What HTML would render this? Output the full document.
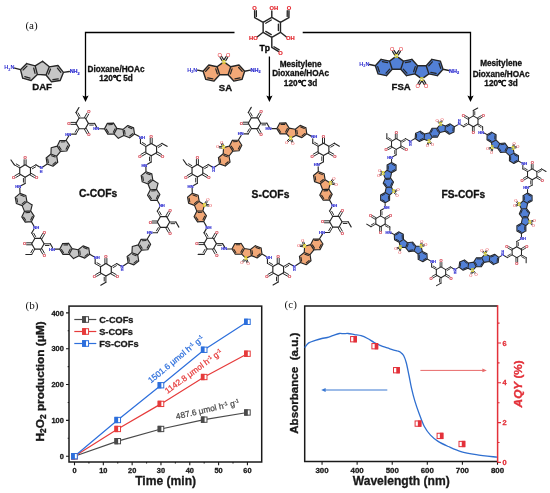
<!DOCTYPE html><html><head><meta charset="utf-8"><style>html,body{margin:0;padding:0;background:#fff;}svg{display:block}</style></head><body><svg width="550" height="493" viewBox="0 0 550 493"><polygon points="118.32,138.3 123.88,135.55 122.99,129.42 116.87,128.37 113.99,133.86" fill="#c6c6c6"/><polygon points="122.99,129.42 123.88,135.55 129.64,137.84 134.51,134 133.61,127.87 127.85,125.57" fill="#c6c6c6"/><polygon points="116.87,128.37 113.99,133.86 107.8,134.11 104.48,128.87 107.37,123.38 113.56,123.13" fill="#c6c6c6"/><polygon points="158.05,183.37 156.49,189.37 150.3,189.74 148.03,183.97 152.82,180.03" fill="#c6c6c6"/><polygon points="150.3,189.74 156.49,189.37 159.9,194.54 157.13,200.09 150.94,200.46 147.52,195.28" fill="#c6c6c6"/><polygon points="148.03,183.97 152.82,180.03 151.81,173.91 146,171.74 141.21,175.67 142.23,181.79" fill="#c6c6c6"/><polygon points="132.28,246.47 131.95,252.67 137.74,254.89 141.64,250.07 138.26,244.87" fill="#c6c6c6"/><polygon points="137.74,254.89 131.95,252.67 127.14,256.57 128.11,262.69 133.9,264.91 138.72,261.01" fill="#c6c6c6"/><polygon points="141.64,250.07 138.26,244.87 141.08,239.34 147.27,239.01 150.65,244.21 147.83,249.74" fill="#c6c6c6"/><polygon points="73.53,258.6 69.2,254.17 72.07,248.67 78.18,249.71 79.09,255.85" fill="#c6c6c6"/><polygon points="72.07,248.67 69.2,254.17 63,254.42 59.68,249.18 62.56,243.69 68.75,243.44" fill="#c6c6c6"/><polygon points="78.18,249.71 79.09,255.85 84.85,258.13 89.71,254.29 88.81,248.15 83.05,245.87" fill="#c6c6c6"/><polygon points="32.17,204.9 26.91,201.62 22.16,205.6 24.49,211.35 30.67,210.92" fill="#c6c6c6"/><polygon points="22.16,205.6 26.91,201.62 25.84,195.51 20.01,193.39 15.26,197.38 16.34,203.48" fill="#c6c6c6"/><polygon points="24.49,211.35 30.67,210.92 34.14,216.06 31.42,221.63 25.24,222.06 21.77,216.92" fill="#c6c6c6"/><polygon points="51.19,147.82 57.16,146.16 60.59,151.33 56.73,156.19 50.92,154.01" fill="#c6c6c6"/><polygon points="60.59,151.33 57.16,146.16 59.93,140.61 66.12,140.24 69.54,145.41 66.77,150.96" fill="#c6c6c6"/><polygon points="56.73,156.19 50.92,154.01 46.13,157.96 47.16,164.07 52.96,166.24 57.75,162.3" fill="#c6c6c6"/><path d="M88.4 123.4L85.3 128.77M85.3 128.77L79.1 128.77M79.1 128.77L76 123.4M76 123.4L79.1 118.03M79.1 118.03L85.3 118.03M85.3 118.03L88.4 123.4M94.6 123.4L96.78 127.17M76 134.14L71.64 134.14M76 112.66L78.94 107.56M156.57 152.7L151.2 155.8M151.2 155.8L145.83 152.7M145.83 152.7L145.83 146.5M145.83 146.5L151.2 143.4M151.2 143.4L156.57 146.5M156.57 146.5L156.57 152.7M151.2 162L147.43 164.18M140.46 143.4L140.46 139.05M161.94 143.4L167.04 146.34M169.7 222L166.6 227.37M166.6 227.37L160.4 227.37M160.4 227.37L157.3 222M157.3 222L160.4 216.63M160.4 216.63L166.6 216.63M166.6 216.63L169.7 222M175.9 222L178.84 227.1M157.3 232.74L152.95 232.74M157.3 211.26L159.48 207.49M111.27 272.9L105.9 276M105.9 276L100.53 272.9M100.53 272.9L100.53 266.7M100.53 266.7L105.9 263.6M105.9 263.6L111.27 266.7M111.27 266.7L111.27 272.9M105.9 282.2L100.8 285.14M95.16 263.6L95.16 259.25M116.64 263.6L120.41 265.78M44.1 243.8L41 249.17M41 249.17L34.8 249.17M34.8 249.17L31.7 243.8M31.7 243.8L34.8 238.43M34.8 238.43L41 238.43M41 238.43L44.1 243.8M50.3 243.8L52.48 247.57M31.7 254.54L25.81 254.54M31.7 233.06L33.88 229.29M30.47 174.1L25.1 177.2M25.1 177.2L19.73 174.1M19.73 174.1L19.73 167.9M19.73 167.9L25.1 164.8M25.1 164.8L30.47 167.9M30.47 167.9L30.47 174.1M25.1 183.4L21.33 185.58M14.36 164.8L10.98 159.98M35.84 164.8L39.61 166.98M118.32 138.3L123.88 135.55M113.99 133.86L118.32 138.3M123.88 135.55L122.99 129.42M122.99 129.42L116.87 128.37M116.87 128.37L113.99 133.86M123.88 135.55L129.64 137.84M129.64 137.84L134.51 134M134.51 134L133.61 127.87M133.61 127.87L127.85 125.57M127.85 125.57L122.99 129.42M113.99 133.86L107.8 134.11M107.8 134.11L104.48 128.87M104.48 128.87L107.37 123.38M107.37 123.38L113.56 123.13M113.56 123.13L116.87 128.37M99.54 128.8L104.48 128.87M138.84 136.33L134.51 134M158.05 183.37L156.49 189.37M152.82 180.03L158.05 183.37M156.49 189.37L150.3 189.74M150.3 189.74L148.03 183.97M148.03 183.97L152.82 180.03M156.49 189.37L159.9 194.54M159.9 194.54L157.13 200.09M157.13 200.09L150.94 200.46M150.94 200.46L147.52 195.28M147.52 195.28L150.3 189.74M152.82 180.03L151.81 173.91M151.81 173.91L146 171.74M146 171.74L141.21 175.67M141.21 175.67L142.23 181.79M142.23 181.79L148.03 183.97M145.88 166.94L146 171.74M159.49 204.28L157.13 200.09M132.28 246.47L131.95 252.67M138.26 244.87L132.28 246.47M131.95 252.67L137.74 254.89M137.74 254.89L141.64 250.07M141.64 250.07L138.26 244.87M131.95 252.67L127.14 256.57M127.14 256.57L128.11 262.69M128.11 262.69L133.9 264.91M133.9 264.91L138.72 261.01M138.72 261.01L137.74 254.89M138.26 244.87L141.08 239.34M141.08 239.34L147.27 239.01M147.27 239.01L150.65 244.21M150.65 244.21L147.83 249.74M147.83 249.74L141.64 250.07M150.14 234.31L147.27 239.01M123.55 265.69L128.11 262.69M73.53 258.6L69.2 254.17M79.09 255.85L73.53 258.6M69.2 254.17L72.07 248.67M72.07 248.67L78.18 249.71M78.18 249.71L79.09 255.85M69.2 254.17L63 254.42M63 254.42L59.68 249.18M59.68 249.18L62.56 243.69M62.56 243.69L68.75 243.44M68.75 243.44L72.07 248.67M79.09 255.85L84.85 258.13M84.85 258.13L89.71 254.29M89.71 254.29L88.81 248.15M88.81 248.15L83.05 245.87M83.05 245.87L78.18 249.71M93.56 256.48L89.71 254.29M55.24 249.17L59.68 249.18M32.17 204.9L26.91 201.62M30.67 210.92L32.17 204.9M26.91 201.62L22.16 205.6M22.16 205.6L24.49 211.35M24.49 211.35L30.67 210.92M26.91 201.62L25.84 195.51M25.84 195.51L20.01 193.39M20.01 193.39L15.26 197.38M15.26 197.38L16.34 203.48M16.34 203.48L22.16 205.6M30.67 210.92L34.14 216.06M34.14 216.06L31.42 221.63M31.42 221.63L25.24 222.06M25.24 222.06L21.77 216.92M21.77 216.92L24.49 211.35M33.9 226.08L31.42 221.63M19.81 188.34L20.01 193.39M51.19 147.82L57.16 146.16M50.92 154.01L51.19 147.82M57.16 146.16L60.59 151.33M60.59 151.33L56.73 156.19M56.73 156.19L50.92 154.01M57.16 146.16L59.93 140.61M59.93 140.61L66.12 140.24M66.12 140.24L69.54 145.41M69.54 145.41L66.77 150.96M66.77 150.96L60.59 151.33M50.92 154.01L46.13 157.96M46.13 157.96L47.16 164.07M47.16 164.07L52.96 166.24M52.96 166.24L57.75 162.3M57.75 162.3L56.73 156.19M42.76 166.9L47.16 164.07M68.85 135.72L66.12 140.24" stroke="#262626" stroke-width="1.15" fill="none" stroke-linecap="round"/><path d="M88.4 123.4L94.6 123.4M89.64 125.07L93.36 125.07M84.44 129.27L87 133.69M86.16 128.27L88.71 132.7M79.1 128.77L76 134.14M77.03 129.01L75.17 132.23M76 122.41L70.89 122.41M76 124.39L70.89 124.39M79.1 118.03L76 112.66M79.93 116.12L78.07 112.9M86.16 118.53L88.71 114.1M84.44 117.53L87 113.11M156.07 153.56L160.5 156.11M157.07 151.84L161.49 154.4M151.2 155.8L151.2 162M149.53 157.04L149.53 160.76M145.33 151.84L140.91 154.4M146.33 153.56L141.9 156.11M145.83 146.5L140.46 143.4M145.59 144.43L142.37 142.57M152.19 143.4L152.19 138.29M150.21 143.4L150.21 138.29M156.57 146.5L161.94 143.4M158.48 147.33L161.7 145.47M169.7 222L175.9 222M170.94 223.67L174.66 223.67M165.74 227.87L168.3 232.29M167.46 226.87L170.01 231.3M160.4 227.37L157.3 232.74M158.33 227.61L156.47 230.83M157.3 221.01L152.19 221.01M157.3 222.99L152.19 222.99M160.4 216.63L157.3 211.26M161.23 214.72L159.37 211.5M167.46 217.13L170.01 212.7M165.74 216.13L168.3 211.71M110.77 273.76L115.2 276.31M111.77 272.04L116.19 274.6M105.9 276L105.9 282.2M104.23 277.24L104.23 280.96M100.03 272.04L95.61 274.6M101.03 273.76L96.6 276.31M100.53 266.7L95.16 263.6M100.29 264.63L97.07 262.77M106.89 263.6L106.89 258.49M104.91 263.6L104.91 258.49M111.27 266.7L116.64 263.6M113.18 267.53L116.4 265.67M44.1 243.8L50.3 243.8M45.34 245.47L49.06 245.47M40.14 249.67L42.7 254.09M41.86 248.67L44.41 253.1M34.8 249.17L31.7 254.54M32.73 249.41L30.87 252.63M31.7 242.81L26.59 242.81M31.7 244.79L26.59 244.79M34.8 238.43L31.7 233.06M35.63 236.52L33.77 233.3M41.86 238.93L44.41 234.5M40.14 237.93L42.7 233.51M29.97 174.96L34.4 177.51M30.97 173.24L35.39 175.8M25.1 177.2L25.1 183.4M23.43 178.44L23.43 182.16M19.23 173.24L14.81 175.8M20.23 174.96L15.8 177.51M19.73 167.9L14.36 164.8M19.49 165.83L16.27 163.97M26.09 164.8L26.09 159.69M24.11 164.8L24.11 159.69M30.47 167.9L35.84 164.8M32.38 168.73L35.6 166.87" stroke="#262626" stroke-width="0.9774999999999999" fill="none" stroke-linecap="round"/><path d="M124.54 130.37L125.09 134.19M129.7 136.02L132.72 133.63M132.01 128.73L128.43 127.3M115.09 128.76L113.3 132.17M108.35 132.37L106.29 129.11M108.59 124.73L112.45 124.57M151.55 191.06L155.4 190.83M158.13 194.97L156.41 198.41M151.46 198.71L149.34 195.49M148.05 182.14L151.03 179.7M150.22 174.81L146.61 173.45M142.78 176.6L143.41 180.4M136.15 255.77L132.55 254.39M128.7 257.51L129.31 261.32M133.93 263.09L136.93 260.66M142.17 248.32L140.07 245.09M142.32 240.67L146.17 240.47M148.87 244.62L147.12 248.06M70.29 249.07L68.5 252.48M63.55 252.68L61.49 249.43M63.79 245.04L67.64 244.88M79.74 250.67L80.3 254.48M84.9 256.31L87.92 253.92M87.2 249.02L83.62 247.6M22.16 203.78L25.12 201.3M24.26 196.42L20.63 195.1M16.84 198.29L17.51 202.08M25.75 212.66L29.6 212.39M32.37 216.5L30.68 219.96M25.74 220.31L23.58 217.12M61.1 149.58L58.98 146.37M61.19 141.94L65.03 141.7M67.77 145.83L66.05 149.28M55.14 157.08L51.53 155.73M47.7 158.88L48.34 162.68M52.98 164.42L55.96 161.97" stroke="#262626" stroke-width="1.035" fill="none" stroke-linecap="round"/><text x="99.18" y="130.25" font-family="Liberation Sans, Arial, sans-serif" font-size="4.1" fill="#2b2bd0" font-weight="bold" text-anchor="end" stroke="#2b2bd0" stroke-width="0.18">HN</text><text x="88.8" y="136.34" font-family="Liberation Sans, Arial, sans-serif" font-size="4.2" fill="#d23444" font-weight="bold" text-anchor="middle" stroke="#d23444" stroke-width="0.12">O</text><text x="71.28" y="135.61" font-family="Liberation Sans, Arial, sans-serif" font-size="4.1" fill="#2b2bd0" font-weight="bold" text-anchor="end" stroke="#2b2bd0" stroke-width="0.18">HN</text><text x="69" y="124.91" font-family="Liberation Sans, Arial, sans-serif" font-size="4.2" fill="#d23444" font-weight="bold" text-anchor="middle" stroke="#d23444" stroke-width="0.12">O</text><text x="88.8" y="113.48" font-family="Liberation Sans, Arial, sans-serif" font-size="4.2" fill="#d23444" font-weight="bold" text-anchor="middle" stroke="#d23444" stroke-width="0.12">O</text><text x="162.63" y="157.71" font-family="Liberation Sans, Arial, sans-serif" font-size="4.2" fill="#d23444" font-weight="bold" text-anchor="middle" stroke="#d23444" stroke-width="0.12">O</text><text x="147.31" y="166.58" font-family="Liberation Sans, Arial, sans-serif" font-size="4.1" fill="#2b2bd0" font-weight="bold" text-anchor="end" stroke="#2b2bd0" stroke-width="0.18">HN</text><text x="139.77" y="157.71" font-family="Liberation Sans, Arial, sans-serif" font-size="4.2" fill="#d23444" font-weight="bold" text-anchor="middle" stroke="#d23444" stroke-width="0.12">O</text><text x="138.98" y="138.68" font-family="Liberation Sans, Arial, sans-serif" font-size="4.1" fill="#2b2bd0" font-weight="bold" text-anchor="start" stroke="#2b2bd0" stroke-width="0.18">NH</text><text x="151.2" y="137.91" font-family="Liberation Sans, Arial, sans-serif" font-size="4.2" fill="#d23444" font-weight="bold" text-anchor="middle" stroke="#d23444" stroke-width="0.12">O</text><text x="170.1" y="234.94" font-family="Liberation Sans, Arial, sans-serif" font-size="4.2" fill="#d23444" font-weight="bold" text-anchor="middle" stroke="#d23444" stroke-width="0.12">O</text><text x="152.58" y="234.21" font-family="Liberation Sans, Arial, sans-serif" font-size="4.1" fill="#2b2bd0" font-weight="bold" text-anchor="end" stroke="#2b2bd0" stroke-width="0.18">HN</text><text x="150.3" y="223.51" font-family="Liberation Sans, Arial, sans-serif" font-size="4.2" fill="#d23444" font-weight="bold" text-anchor="middle" stroke="#d23444" stroke-width="0.12">O</text><text x="158.92" y="207.37" font-family="Liberation Sans, Arial, sans-serif" font-size="4.1" fill="#2b2bd0" font-weight="bold" text-anchor="start" stroke="#2b2bd0" stroke-width="0.18">NH</text><text x="170.1" y="212.08" font-family="Liberation Sans, Arial, sans-serif" font-size="4.2" fill="#d23444" font-weight="bold" text-anchor="middle" stroke="#d23444" stroke-width="0.12">O</text><text x="117.33" y="277.91" font-family="Liberation Sans, Arial, sans-serif" font-size="4.2" fill="#d23444" font-weight="bold" text-anchor="middle" stroke="#d23444" stroke-width="0.12">O</text><text x="94.47" y="277.91" font-family="Liberation Sans, Arial, sans-serif" font-size="4.2" fill="#d23444" font-weight="bold" text-anchor="middle" stroke="#d23444" stroke-width="0.12">O</text><text x="93.68" y="258.88" font-family="Liberation Sans, Arial, sans-serif" font-size="4.1" fill="#2b2bd0" font-weight="bold" text-anchor="start" stroke="#2b2bd0" stroke-width="0.18">NH</text><text x="105.9" y="258.11" font-family="Liberation Sans, Arial, sans-serif" font-size="4.2" fill="#d23444" font-weight="bold" text-anchor="middle" stroke="#d23444" stroke-width="0.12">O</text><text x="122.01" y="268.18" font-family="Liberation Sans, Arial, sans-serif" font-size="4.1" fill="#2b2bd0" font-weight="bold" text-anchor="middle" stroke="#2b2bd0" stroke-width="0.18">N</text><text x="122.01" y="271.46" font-family="Liberation Sans, Arial, sans-serif" font-size="3.69" fill="#2b2bd0" font-weight="bold" text-anchor="middle" stroke="#2b2bd0" stroke-width="0.18">H</text><text x="54.88" y="250.65" font-family="Liberation Sans, Arial, sans-serif" font-size="4.1" fill="#2b2bd0" font-weight="bold" text-anchor="end" stroke="#2b2bd0" stroke-width="0.18">HN</text><text x="44.5" y="256.74" font-family="Liberation Sans, Arial, sans-serif" font-size="4.2" fill="#d23444" font-weight="bold" text-anchor="middle" stroke="#d23444" stroke-width="0.12">O</text><text x="24.7" y="245.31" font-family="Liberation Sans, Arial, sans-serif" font-size="4.2" fill="#d23444" font-weight="bold" text-anchor="middle" stroke="#d23444" stroke-width="0.12">O</text><text x="33.32" y="229.17" font-family="Liberation Sans, Arial, sans-serif" font-size="4.1" fill="#2b2bd0" font-weight="bold" text-anchor="start" stroke="#2b2bd0" stroke-width="0.18">NH</text><text x="44.5" y="233.88" font-family="Liberation Sans, Arial, sans-serif" font-size="4.2" fill="#d23444" font-weight="bold" text-anchor="middle" stroke="#d23444" stroke-width="0.12">O</text><text x="36.53" y="179.11" font-family="Liberation Sans, Arial, sans-serif" font-size="4.2" fill="#d23444" font-weight="bold" text-anchor="middle" stroke="#d23444" stroke-width="0.12">O</text><text x="21.21" y="187.98" font-family="Liberation Sans, Arial, sans-serif" font-size="4.1" fill="#2b2bd0" font-weight="bold" text-anchor="end" stroke="#2b2bd0" stroke-width="0.18">HN</text><text x="13.67" y="179.11" font-family="Liberation Sans, Arial, sans-serif" font-size="4.2" fill="#d23444" font-weight="bold" text-anchor="middle" stroke="#d23444" stroke-width="0.12">O</text><text x="25.1" y="159.31" font-family="Liberation Sans, Arial, sans-serif" font-size="4.2" fill="#d23444" font-weight="bold" text-anchor="middle" stroke="#d23444" stroke-width="0.12">O</text><text x="41.21" y="169.38" font-family="Liberation Sans, Arial, sans-serif" font-size="4.1" fill="#2b2bd0" font-weight="bold" text-anchor="middle" stroke="#2b2bd0" stroke-width="0.18">N</text><text x="41.21" y="172.66" font-family="Liberation Sans, Arial, sans-serif" font-size="3.69" fill="#2b2bd0" font-weight="bold" text-anchor="middle" stroke="#2b2bd0" stroke-width="0.18">H</text><polygon points="290.62,138.1 296.18,135.35 295.29,129.22 289.17,128.17 286.29,133.66" fill="#f2a877"/><polygon points="295.29,129.22 296.18,135.35 301.94,137.64 306.81,133.8 305.91,127.67 300.15,125.37" fill="#f2a877"/><polygon points="289.17,128.17 286.29,133.66 280.1,133.91 276.78,128.67 279.67,123.18 285.86,122.93" fill="#f2a877"/><polygon points="330.35,183.17 328.79,189.17 322.6,189.54 320.33,183.77 325.12,179.83" fill="#f2a877"/><polygon points="322.6,189.54 328.79,189.17 332.2,194.34 329.43,199.89 323.24,200.26 319.82,195.08" fill="#f2a877"/><polygon points="320.33,183.77 325.12,179.83 324.11,173.71 318.3,171.54 313.51,175.47 314.53,181.59" fill="#f2a877"/><polygon points="304.58,246.27 304.25,252.47 310.04,254.69 313.94,249.87 310.56,244.67" fill="#f2a877"/><polygon points="310.04,254.69 304.25,252.47 299.44,256.37 300.41,262.49 306.2,264.71 311.02,260.81" fill="#f2a877"/><polygon points="313.94,249.87 310.56,244.67 313.38,239.14 319.57,238.81 322.95,244.01 320.13,249.54" fill="#f2a877"/><polygon points="245.83,258.4 241.5,253.97 244.37,248.47 250.48,249.51 251.39,255.65" fill="#f2a877"/><polygon points="244.37,248.47 241.5,253.97 235.3,254.22 231.98,248.98 234.86,243.49 241.05,243.24" fill="#f2a877"/><polygon points="250.48,249.51 251.39,255.65 257.15,257.93 262.01,254.09 261.11,247.95 255.35,245.67" fill="#f2a877"/><polygon points="204.47,204.7 199.21,201.42 194.46,205.4 196.79,211.15 202.97,210.72" fill="#f2a877"/><polygon points="194.46,205.4 199.21,201.42 198.14,195.31 192.31,193.19 187.56,197.18 188.64,203.28" fill="#f2a877"/><polygon points="196.79,211.15 202.97,210.72 206.44,215.86 203.72,221.43 197.54,221.86 194.07,216.72" fill="#f2a877"/><polygon points="223.49,147.62 229.46,145.96 232.89,151.13 229.03,155.99 223.22,153.81" fill="#f2a877"/><polygon points="232.89,151.13 229.46,145.96 232.23,140.41 238.42,140.04 241.84,145.21 239.07,150.76" fill="#f2a877"/><polygon points="229.03,155.99 223.22,153.81 218.43,157.76 219.46,163.87 225.26,166.04 230.05,162.1" fill="#f2a877"/><path d="M260.7 123.2L257.6 128.57M257.6 128.57L251.4 128.57M251.4 128.57L248.3 123.2M248.3 123.2L251.4 117.83M251.4 117.83L257.6 117.83M257.6 117.83L260.7 123.2M266.9 123.2L269.08 126.97M248.3 133.94L243.95 133.94M248.3 112.46L251.24 107.36M328.87 152.5L323.5 155.6M323.5 155.6L318.13 152.5M318.13 152.5L318.13 146.3M318.13 146.3L323.5 143.2M323.5 143.2L328.87 146.3M328.87 146.3L328.87 152.5M323.5 161.8L319.73 163.98M312.76 143.2L312.76 138.85M334.24 143.2L339.34 146.14M342 221.8L338.9 227.17M338.9 227.17L332.7 227.17M332.7 227.17L329.6 221.8M329.6 221.8L332.7 216.43M332.7 216.43L338.9 216.43M338.9 216.43L342 221.8M348.2 221.8L351.14 226.9M329.6 232.54L325.25 232.54M329.6 211.06L331.78 207.29M283.57 272.7L278.2 275.8M278.2 275.8L272.83 272.7M272.83 272.7L272.83 266.5M272.83 266.5L278.2 263.4M278.2 263.4L283.57 266.5M283.57 266.5L283.57 272.7M278.2 282L273.1 284.94M267.46 263.4L267.46 259.05M288.94 263.4L292.71 265.58M216.4 243.6L213.3 248.97M213.3 248.97L207.1 248.97M207.1 248.97L204 243.6M204 243.6L207.1 238.23M207.1 238.23L213.3 238.23M213.3 238.23L216.4 243.6M222.6 243.6L224.78 247.37M204 254.34L198.11 254.34M204 232.86L206.18 229.09M202.77 173.9L197.4 177M197.4 177L192.03 173.9M192.03 173.9L192.03 167.7M192.03 167.7L197.4 164.6M197.4 164.6L202.77 167.7M202.77 167.7L202.77 173.9M197.4 183.2L193.63 185.38M186.66 164.6L183.28 159.78M208.14 164.6L211.91 166.78M292.42 137.21L296.18 135.35M286.29 133.66L289.23 136.67M296.18 135.35L295.29 129.22M295.29 129.22L289.17 128.17M289.17 128.17L286.29 133.66M296.18 135.35L301.94 137.64M301.94 137.64L306.81 133.8M306.81 133.8L305.91 127.67M305.91 127.67L300.15 125.37M300.15 125.37L295.29 129.22M286.29 133.66L280.1 133.91M280.1 133.91L276.78 128.67M276.78 128.67L279.67 123.18M279.67 123.18L285.86 122.93M285.86 122.93L289.17 128.17M271.84 128.6L276.78 128.67M311.14 136.13L306.81 133.8M329.84 185.1L328.79 189.17M325.12 179.83L328.66 182.09M328.79 189.17L322.6 189.54M322.6 189.54L320.33 183.77M320.33 183.77L325.12 179.83M328.79 189.17L332.2 194.34M332.2 194.34L329.43 199.89M329.43 199.89L323.24 200.26M323.24 200.26L319.82 195.08M319.82 195.08L322.6 189.54M325.12 179.83L324.11 173.71M324.11 173.71L318.3 171.54M318.3 171.54L313.51 175.47M313.51 175.47L314.53 181.59M314.53 181.59L320.33 183.77M318.18 166.74L318.3 171.54M331.79 204.08L329.43 199.89M304.47 248.27L304.25 252.47M310.56 244.67L306.51 245.76M304.25 252.47L310.04 254.69M310.04 254.69L313.94 249.87M313.94 249.87L310.56 244.67M304.25 252.47L299.44 256.37M299.44 256.37L300.41 262.49M300.41 262.49L306.2 264.71M306.2 264.71L311.02 260.81M311.02 260.81L310.04 254.69M310.56 244.67L313.38 239.14M313.38 239.14L319.57 238.81M319.57 238.81L322.95 244.01M322.95 244.01L320.13 249.54M320.13 249.54L313.94 249.87M322.44 234.11L319.57 238.81M295.85 265.49L300.41 262.49M244.43 256.97L241.5 253.97M251.39 255.65L247.62 257.51M241.5 253.97L244.37 248.47M244.37 248.47L250.48 249.51M250.48 249.51L251.39 255.65M241.5 253.97L235.3 254.22M235.3 254.22L231.98 248.98M231.98 248.98L234.86 243.49M234.86 243.49L241.05 243.24M241.05 243.24L244.37 248.47M251.39 255.65L257.15 257.93M257.15 257.93L262.01 254.09M262.01 254.09L261.11 247.95M261.11 247.95L255.35 245.67M255.35 245.67L250.48 249.51M265.86 256.28L262.01 254.09M227.54 248.97L231.98 248.98M202.77 203.64L199.21 201.42M202.97 210.72L203.99 206.64M199.21 201.42L194.46 205.4M194.46 205.4L196.79 211.15M196.79 211.15L202.97 210.72M199.21 201.42L198.14 195.31M198.14 195.31L192.31 193.19M192.31 193.19L187.56 197.18M187.56 197.18L188.64 203.28M188.64 203.28L194.46 205.4M202.97 210.72L206.44 215.86M206.44 215.86L203.72 221.43M203.72 221.43L197.54 221.86M197.54 221.86L194.07 216.72M194.07 216.72L196.79 211.15M206.2 225.88L203.72 221.43M192.11 188.14L192.31 193.19M225.42 147.08L229.46 145.96M223.22 153.81L223.4 149.62M229.46 145.96L232.89 151.13M232.89 151.13L229.03 155.99M229.03 155.99L223.22 153.81M229.46 145.96L232.23 140.41M232.23 140.41L238.42 140.04M238.42 140.04L241.84 145.21M241.84 145.21L239.07 150.76M239.07 150.76L232.89 151.13M223.22 153.81L218.43 157.76M218.43 157.76L219.46 163.87M219.46 163.87L225.26 166.04M225.26 166.04L230.05 162.1M230.05 162.1L229.03 155.99M215.06 166.7L219.46 163.87M241.15 135.52L238.42 140.04" stroke="#262626" stroke-width="1.15" fill="none" stroke-linecap="round"/><path d="M260.7 123.2L266.9 123.2M261.94 124.87L265.66 124.87M256.74 129.07L259.3 133.49M258.46 128.07L261.01 132.5M251.4 128.57L248.3 133.94M249.33 128.81L247.47 132.03M248.3 122.21L243.19 122.21M248.3 124.19L243.19 124.19M251.4 117.83L248.3 112.46M252.23 115.92L250.37 112.7M258.46 118.33L261.01 113.9M256.74 117.33L259.3 112.91M328.37 153.36L332.8 155.91M329.37 151.64L333.79 154.2M323.5 155.6L323.5 161.8M321.83 156.84L321.83 160.56M317.63 151.64L313.21 154.2M318.63 153.36L314.2 155.91M318.13 146.3L312.76 143.2M317.89 144.23L314.67 142.37M324.49 143.2L324.49 138.09M322.51 143.2L322.51 138.09M328.87 146.3L334.24 143.2M330.78 147.13L334 145.27M342 221.8L348.2 221.8M343.24 223.47L346.96 223.47M338.04 227.67L340.6 232.09M339.76 226.67L342.31 231.1M332.7 227.17L329.6 232.54M330.63 227.41L328.77 230.63M329.6 220.81L324.49 220.81M329.6 222.79L324.49 222.79M332.7 216.43L329.6 211.06M333.53 214.52L331.67 211.3M339.76 216.93L342.31 212.5M338.04 215.93L340.6 211.51M283.07 273.56L287.5 276.11M284.07 271.84L288.49 274.4M278.2 275.8L278.2 282M276.53 277.04L276.53 280.76M272.33 271.84L267.91 274.4M273.33 273.56L268.9 276.11M272.83 266.5L267.46 263.4M272.59 264.43L269.37 262.57M279.19 263.4L279.19 258.29M277.21 263.4L277.21 258.29M283.57 266.5L288.94 263.4M285.48 267.33L288.7 265.47M216.4 243.6L222.6 243.6M217.64 245.27L221.36 245.27M212.44 249.47L215 253.89M214.16 248.47L216.71 252.9M207.1 248.97L204 254.34M205.03 249.21L203.17 252.43M204 242.61L198.89 242.61M204 244.59L198.89 244.59M207.1 238.23L204 232.86M207.93 236.32L206.07 233.1M214.16 238.73L216.71 234.3M212.44 237.73L215 233.31M202.27 174.76L206.7 177.31M203.27 173.04L207.69 175.6M197.4 177L197.4 183.2M195.73 178.24L195.73 181.96M191.53 173.04L187.11 175.6M192.53 174.76L188.1 177.31M192.03 167.7L186.66 164.6M191.79 165.63L188.57 163.77M198.39 164.6L198.39 159.49M196.41 164.6L196.41 159.49M202.77 167.7L208.14 164.6M204.68 168.53L207.9 166.67M290.66 139.98L291.56 142.17M291.92 139.46L292.82 141.66M288.95 138.95L287.37 140.72M289.97 139.86L288.39 141.63M331.94 182.17L333.35 180.26M330.84 181.36L332.26 179.45M331.94 184.16L334.28 184.59M332.19 182.82L334.53 183.25M302.92 245.39L300.56 245.1M302.76 246.74L300.4 246.45M304.65 244.4L303.88 242.15M303.36 244.84L302.59 242.6M245.86 260.28L246.77 262.47M247.13 259.76L248.03 261.96M244.16 259.25L242.58 261.03M245.18 260.16L243.6 261.94M206.05 203.69L207.45 201.77M204.95 202.89L206.34 200.96M206.08 205.68L208.42 206.09M206.31 204.33L208.65 204.75M221.83 146.74L219.47 146.47M221.67 148.1L219.31 147.83M223.55 145.74L222.76 143.5M222.26 146.2L221.47 143.96" stroke="#262626" stroke-width="0.9774999999999999" fill="none" stroke-linecap="round"/><path d="M296.84 130.17L297.39 133.99M302 135.82L305.02 133.43M304.31 128.53L300.73 127.1M287.39 128.56L285.6 131.97M280.65 132.17L278.59 128.91M280.89 124.53L284.75 124.37M323.85 190.86L327.7 190.63M330.43 194.77L328.71 198.21M323.76 198.51L321.64 195.29M320.35 181.94L323.33 179.5M322.52 174.61L318.91 173.25M315.08 176.4L315.71 180.2M308.45 255.57L304.85 254.19M301 257.31L301.61 261.12M306.23 262.89L309.23 260.46M314.47 248.12L312.37 244.89M314.62 240.47L318.47 240.27M321.17 244.42L319.42 247.86M242.59 248.87L240.8 252.28M235.85 252.48L233.79 249.23M236.09 244.84L239.94 244.68M252.04 250.47L252.6 254.28M257.2 256.11L260.22 253.72M259.5 248.82L255.92 247.4M194.46 203.58L197.42 201.1M196.56 196.22L192.93 194.9M189.14 198.09L189.81 201.88M198.05 212.46L201.9 212.19M204.67 216.3L202.98 219.76M198.04 220.11L195.88 216.92M233.4 149.38L231.28 146.17M233.49 141.74L237.33 141.5M240.07 145.63L238.35 149.08M227.44 156.88L223.83 155.53M220 158.68L220.64 162.48M225.28 164.22L228.26 161.77" stroke="#262626" stroke-width="1.035" fill="none" stroke-linecap="round"/><text x="271.48" y="130.05" font-family="Liberation Sans, Arial, sans-serif" font-size="4.1" fill="#2b2bd0" font-weight="bold" text-anchor="end" stroke="#2b2bd0" stroke-width="0.18">HN</text><text x="261.1" y="136.14" font-family="Liberation Sans, Arial, sans-serif" font-size="4.2" fill="#d23444" font-weight="bold" text-anchor="middle" stroke="#d23444" stroke-width="0.12">O</text><text x="243.58" y="135.41" font-family="Liberation Sans, Arial, sans-serif" font-size="4.1" fill="#2b2bd0" font-weight="bold" text-anchor="end" stroke="#2b2bd0" stroke-width="0.18">HN</text><text x="241.3" y="124.71" font-family="Liberation Sans, Arial, sans-serif" font-size="4.2" fill="#d23444" font-weight="bold" text-anchor="middle" stroke="#d23444" stroke-width="0.12">O</text><text x="261.1" y="113.28" font-family="Liberation Sans, Arial, sans-serif" font-size="4.2" fill="#d23444" font-weight="bold" text-anchor="middle" stroke="#d23444" stroke-width="0.12">O</text><text x="334.93" y="157.51" font-family="Liberation Sans, Arial, sans-serif" font-size="4.2" fill="#d23444" font-weight="bold" text-anchor="middle" stroke="#d23444" stroke-width="0.12">O</text><text x="319.61" y="166.38" font-family="Liberation Sans, Arial, sans-serif" font-size="4.1" fill="#2b2bd0" font-weight="bold" text-anchor="end" stroke="#2b2bd0" stroke-width="0.18">HN</text><text x="312.07" y="157.51" font-family="Liberation Sans, Arial, sans-serif" font-size="4.2" fill="#d23444" font-weight="bold" text-anchor="middle" stroke="#d23444" stroke-width="0.12">O</text><text x="311.28" y="138.48" font-family="Liberation Sans, Arial, sans-serif" font-size="4.1" fill="#2b2bd0" font-weight="bold" text-anchor="start" stroke="#2b2bd0" stroke-width="0.18">NH</text><text x="323.5" y="137.71" font-family="Liberation Sans, Arial, sans-serif" font-size="4.2" fill="#d23444" font-weight="bold" text-anchor="middle" stroke="#d23444" stroke-width="0.12">O</text><text x="342.4" y="234.74" font-family="Liberation Sans, Arial, sans-serif" font-size="4.2" fill="#d23444" font-weight="bold" text-anchor="middle" stroke="#d23444" stroke-width="0.12">O</text><text x="324.88" y="234.01" font-family="Liberation Sans, Arial, sans-serif" font-size="4.1" fill="#2b2bd0" font-weight="bold" text-anchor="end" stroke="#2b2bd0" stroke-width="0.18">HN</text><text x="322.6" y="223.31" font-family="Liberation Sans, Arial, sans-serif" font-size="4.2" fill="#d23444" font-weight="bold" text-anchor="middle" stroke="#d23444" stroke-width="0.12">O</text><text x="331.22" y="207.17" font-family="Liberation Sans, Arial, sans-serif" font-size="4.1" fill="#2b2bd0" font-weight="bold" text-anchor="start" stroke="#2b2bd0" stroke-width="0.18">NH</text><text x="342.4" y="211.88" font-family="Liberation Sans, Arial, sans-serif" font-size="4.2" fill="#d23444" font-weight="bold" text-anchor="middle" stroke="#d23444" stroke-width="0.12">O</text><text x="289.63" y="277.71" font-family="Liberation Sans, Arial, sans-serif" font-size="4.2" fill="#d23444" font-weight="bold" text-anchor="middle" stroke="#d23444" stroke-width="0.12">O</text><text x="266.77" y="277.71" font-family="Liberation Sans, Arial, sans-serif" font-size="4.2" fill="#d23444" font-weight="bold" text-anchor="middle" stroke="#d23444" stroke-width="0.12">O</text><text x="265.98" y="258.68" font-family="Liberation Sans, Arial, sans-serif" font-size="4.1" fill="#2b2bd0" font-weight="bold" text-anchor="start" stroke="#2b2bd0" stroke-width="0.18">NH</text><text x="278.2" y="257.91" font-family="Liberation Sans, Arial, sans-serif" font-size="4.2" fill="#d23444" font-weight="bold" text-anchor="middle" stroke="#d23444" stroke-width="0.12">O</text><text x="294.31" y="267.98" font-family="Liberation Sans, Arial, sans-serif" font-size="4.1" fill="#2b2bd0" font-weight="bold" text-anchor="middle" stroke="#2b2bd0" stroke-width="0.18">N</text><text x="294.31" y="271.26" font-family="Liberation Sans, Arial, sans-serif" font-size="3.69" fill="#2b2bd0" font-weight="bold" text-anchor="middle" stroke="#2b2bd0" stroke-width="0.18">H</text><text x="227.18" y="250.45" font-family="Liberation Sans, Arial, sans-serif" font-size="4.1" fill="#2b2bd0" font-weight="bold" text-anchor="end" stroke="#2b2bd0" stroke-width="0.18">HN</text><text x="216.8" y="256.54" font-family="Liberation Sans, Arial, sans-serif" font-size="4.2" fill="#d23444" font-weight="bold" text-anchor="middle" stroke="#d23444" stroke-width="0.12">O</text><text x="197" y="245.11" font-family="Liberation Sans, Arial, sans-serif" font-size="4.2" fill="#d23444" font-weight="bold" text-anchor="middle" stroke="#d23444" stroke-width="0.12">O</text><text x="205.62" y="228.97" font-family="Liberation Sans, Arial, sans-serif" font-size="4.1" fill="#2b2bd0" font-weight="bold" text-anchor="start" stroke="#2b2bd0" stroke-width="0.18">NH</text><text x="216.8" y="233.68" font-family="Liberation Sans, Arial, sans-serif" font-size="4.2" fill="#d23444" font-weight="bold" text-anchor="middle" stroke="#d23444" stroke-width="0.12">O</text><text x="208.83" y="178.91" font-family="Liberation Sans, Arial, sans-serif" font-size="4.2" fill="#d23444" font-weight="bold" text-anchor="middle" stroke="#d23444" stroke-width="0.12">O</text><text x="193.51" y="187.78" font-family="Liberation Sans, Arial, sans-serif" font-size="4.1" fill="#2b2bd0" font-weight="bold" text-anchor="end" stroke="#2b2bd0" stroke-width="0.18">HN</text><text x="185.97" y="178.91" font-family="Liberation Sans, Arial, sans-serif" font-size="4.2" fill="#d23444" font-weight="bold" text-anchor="middle" stroke="#d23444" stroke-width="0.12">O</text><text x="197.4" y="159.11" font-family="Liberation Sans, Arial, sans-serif" font-size="4.2" fill="#d23444" font-weight="bold" text-anchor="middle" stroke="#d23444" stroke-width="0.12">O</text><text x="213.51" y="169.18" font-family="Liberation Sans, Arial, sans-serif" font-size="4.1" fill="#2b2bd0" font-weight="bold" text-anchor="middle" stroke="#2b2bd0" stroke-width="0.18">N</text><text x="213.51" y="172.46" font-family="Liberation Sans, Arial, sans-serif" font-size="3.69" fill="#2b2bd0" font-weight="bold" text-anchor="middle" stroke="#2b2bd0" stroke-width="0.18">H</text><text x="290.62" y="139.9" font-family="Liberation Sans, Arial, sans-serif" font-size="5" fill="#d9cc1e" font-weight="bold" text-anchor="middle" stroke="#d9cc1e" stroke-width="0.18">S</text><text x="292.86" y="145.06" font-family="Liberation Sans, Arial, sans-serif" font-size="4.2" fill="#e3262d" font-weight="normal" text-anchor="middle">O</text><text x="286.7" y="144.01" font-family="Liberation Sans, Arial, sans-serif" font-size="4.2" fill="#e3262d" font-weight="normal" text-anchor="middle">O</text><text x="330.35" y="184.97" font-family="Liberation Sans, Arial, sans-serif" font-size="5" fill="#d9cc1e" font-weight="bold" text-anchor="middle" stroke="#d9cc1e" stroke-width="0.18">S</text><text x="333.86" y="179.95" font-family="Liberation Sans, Arial, sans-serif" font-size="4.2" fill="#e3262d" font-weight="normal" text-anchor="middle">O</text><text x="336.14" y="185.76" font-family="Liberation Sans, Arial, sans-serif" font-size="4.2" fill="#e3262d" font-weight="normal" text-anchor="middle">O</text><text x="304.58" y="248.07" font-family="Liberation Sans, Arial, sans-serif" font-size="5" fill="#d9cc1e" font-weight="bold" text-anchor="middle" stroke="#d9cc1e" stroke-width="0.18">S</text><text x="298.73" y="247.07" font-family="Liberation Sans, Arial, sans-serif" font-size="4.2" fill="#e3262d" font-weight="normal" text-anchor="middle">O</text><text x="302.66" y="242.22" font-family="Liberation Sans, Arial, sans-serif" font-size="4.2" fill="#e3262d" font-weight="normal" text-anchor="middle">O</text><text x="245.83" y="260.2" font-family="Liberation Sans, Arial, sans-serif" font-size="5" fill="#d9cc1e" font-weight="bold" text-anchor="middle" stroke="#d9cc1e" stroke-width="0.18">S</text><text x="248.07" y="265.36" font-family="Liberation Sans, Arial, sans-serif" font-size="4.2" fill="#e3262d" font-weight="normal" text-anchor="middle">O</text><text x="241.92" y="264.31" font-family="Liberation Sans, Arial, sans-serif" font-size="4.2" fill="#e3262d" font-weight="normal" text-anchor="middle">O</text><text x="204.47" y="206.5" font-family="Liberation Sans, Arial, sans-serif" font-size="5" fill="#d9cc1e" font-weight="bold" text-anchor="middle" stroke="#d9cc1e" stroke-width="0.18">S</text><text x="207.93" y="201.45" font-family="Liberation Sans, Arial, sans-serif" font-size="4.2" fill="#e3262d" font-weight="normal" text-anchor="middle">O</text><text x="210.27" y="207.24" font-family="Liberation Sans, Arial, sans-serif" font-size="4.2" fill="#e3262d" font-weight="normal" text-anchor="middle">O</text><text x="223.49" y="149.42" font-family="Liberation Sans, Arial, sans-serif" font-size="5" fill="#d9cc1e" font-weight="bold" text-anchor="middle" stroke="#d9cc1e" stroke-width="0.18">S</text><text x="217.64" y="148.46" font-family="Liberation Sans, Arial, sans-serif" font-size="4.2" fill="#e3262d" font-weight="normal" text-anchor="middle">O</text><text x="221.52" y="143.58" font-family="Liberation Sans, Arial, sans-serif" font-size="4.2" fill="#e3262d" font-weight="normal" text-anchor="middle">O</text><polygon points="505.72,152.07 500.54,152.51 497.57,148.24 499.78,143.53 504.96,143.09 507.93,147.36" fill="#5280d6"/><polygon points="497.57,148.24 499.78,143.53 495.99,139.98 491.43,142.48 492.41,147.59" fill="#5280d6"/><polygon points="507.93,147.36 505.72,152.07 509.51,155.62 514.07,153.12 513.09,148.01" fill="#5280d6"/><polygon points="495.99,139.98 491.43,142.48 486.98,139.79 487.09,134.59 491.64,132.09 496.09,134.78" fill="#5280d6"/><polygon points="509.51,155.62 514.07,153.12 518.52,155.81 518.41,161.01 513.86,163.51 509.41,160.82" fill="#5280d6"/><polygon points="522.42,218.02 519.33,213.83 521.41,209.06 526.58,208.48 529.67,212.67 527.59,217.44" fill="#5280d6"/><polygon points="521.41,209.06 526.58,208.48 527.63,203.39 523.11,200.82 519.27,204.33" fill="#5280d6"/><polygon points="527.59,217.44 522.42,218.02 521.37,223.11 525.89,225.68 529.73,222.17" fill="#5280d6"/><polygon points="527.63,203.39 523.11,200.82 523.07,195.62 527.55,192.99 532.08,195.56 532.11,200.76" fill="#5280d6"/><polygon points="521.37,223.11 525.89,225.68 525.93,230.88 521.45,233.51 516.92,230.94 516.89,225.74" fill="#5280d6"/><polygon points="473.7,262.12 476.41,257.68 481.61,257.81 484.1,262.38 481.39,266.82 476.19,266.69" fill="#5280d6"/><polygon points="481.61,257.81 484.1,262.38 489.21,261.42 489.88,256.27 485.18,254.03" fill="#5280d6"/><polygon points="476.19,266.69 473.7,262.12 468.59,263.08 467.92,268.23 472.62,270.47" fill="#5280d6"/><polygon points="489.21,261.42 489.88,256.27 494.68,254.27 498.81,257.43 498.14,262.58 493.34,264.58" fill="#5280d6"/><polygon points="468.59,263.08 467.92,268.23 463.12,270.23 458.99,267.07 459.66,261.92 464.46,259.92" fill="#5280d6"/><polygon points="407.51,242.73 412.66,241.96 415.89,246.03 413.99,250.87 408.84,251.64 405.61,247.57" fill="#5280d6"/><polygon points="415.89,246.03 413.99,250.87 418,254.18 422.38,251.39 421.08,246.35" fill="#5280d6"/><polygon points="405.61,247.57 407.51,242.73 403.5,239.42 399.12,242.21 400.42,247.25" fill="#5280d6"/><polygon points="418,254.18 422.38,251.39 427,253.79 427.22,258.98 422.83,261.78 418.22,259.37" fill="#5280d6"/><polygon points="403.5,239.42 399.12,242.21 394.5,239.81 394.28,234.62 398.67,231.82 403.28,234.23" fill="#5280d6"/><polygon points="390.48,177.91 393.52,182.12 391.4,186.87 386.22,187.39 383.18,183.18 385.3,178.43" fill="#5280d6"/><polygon points="391.4,186.87 386.22,187.39 385.13,192.48 389.62,195.09 393.5,191.62" fill="#5280d6"/><polygon points="385.3,178.43 390.48,177.91 391.57,172.82 387.08,170.21 383.2,173.68" fill="#5280d6"/><polygon points="385.13,192.48 389.62,195.09 389.61,200.29 385.1,202.88 380.6,200.27 380.62,195.07" fill="#5280d6"/><polygon points="391.57,172.82 387.08,170.21 387.09,165.01 391.6,162.42 396.1,165.03 396.08,170.23" fill="#5280d6"/><polygon points="439.95,132.5 437.48,137.08 432.28,137.23 429.55,132.8 432.02,128.22 437.22,128.07" fill="#5280d6"/><polygon points="432.28,137.23 429.55,132.8 424.5,134.03 424.11,139.21 428.92,141.19" fill="#5280d6"/><polygon points="437.22,128.07 439.95,132.5 445,131.27 445.39,126.09 440.58,124.11" fill="#5280d6"/><polygon points="424.5,134.03 424.11,139.21 419.42,141.47 415.13,138.53 415.52,133.35 420.21,131.1" fill="#5280d6"/><polygon points="445,131.27 445.39,126.09 450.08,123.83 454.37,126.77 453.98,131.95 449.29,134.2" fill="#5280d6"/><path d="M477.98 124L473.3 126.7M473.3 126.7L468.62 124M468.62 124L468.62 118.6M468.62 118.6L473.3 115.9M473.3 115.9L477.98 118.6M477.98 118.6L477.98 124M482.65 126.7L482.65 130.3M463.95 126.7L460.83 124.9M473.3 110.5L477.74 107.94M536.88 177L532.2 179.7M532.2 179.7L527.52 177M527.52 177L527.52 171.6M527.52 171.6L532.2 168.9M532.2 168.9L536.88 171.6M536.88 171.6L536.88 177M532.2 185.1L529.08 186.9M522.85 168.9L522.85 165.3M541.55 168.9L546 171.47M521.48 254.9L516.8 257.6M516.8 257.6L512.12 254.9M512.12 254.9L512.12 249.5M512.12 249.5L516.8 246.8M516.8 246.8L521.48 249.5M521.48 249.5L521.48 254.9M526.15 257.6L526.15 262.73M507.45 257.6L504.33 255.8M516.8 241.4L519.92 239.6M445.68 275L441 277.7M441 277.7L436.32 275M436.32 275L436.32 269.6M436.32 269.6L441 266.9M441 266.9L445.68 269.6M445.68 269.6L445.68 275M441 283.1L436.56 285.67M431.65 266.9L431.65 263.3M450.35 266.9L453.47 268.7M385.18 224L380.5 226.7M380.5 226.7L375.82 224M375.82 224L375.82 218.6M375.82 218.6L380.5 215.9M380.5 215.9L385.18 218.6M385.18 218.6L385.18 224M389.85 226.7L389.85 230.3M371.15 226.7L366.7 224.14M380.5 210.5L383.62 208.7M400.88 146.7L396.2 149.4M396.2 149.4L391.52 146.7M391.52 146.7L391.52 141.3M391.52 141.3L396.2 138.6M396.2 138.6L400.88 141.3M400.88 141.3L400.88 146.7M396.2 154.8L393.08 156.6M386.85 138.6L386.85 133.47M405.55 138.6L408.67 140.4M497.57 148.24L499.78 143.53M499.78 143.53L495.99 139.98M495.99 139.98L491.43 142.48M491.43 142.48L492.06 145.78M494.23 147.82L497.57 148.24M507.93 147.36L505.72 152.07M505.72 152.07L509.51 155.62M509.51 155.62L514.07 153.12M514.07 153.12L513.44 149.82M511.27 147.78L507.93 147.36M505.72 152.07L500.54 152.51M500.54 152.51L497.57 148.24M499.78 143.53L504.96 143.09M504.96 143.09L507.93 147.36M491.43 142.48L486.98 139.79M486.98 139.79L487.09 134.59M487.09 134.59L491.64 132.09M491.64 132.09L496.09 134.78M496.09 134.78L495.99 139.98M514.07 153.12L518.52 155.81M518.52 155.81L518.41 161.01M518.41 161.01L513.86 163.51M513.86 163.51L509.41 160.82M509.41 160.82L509.51 155.62M484.22 132.98L487.09 134.59M521.28 162.62L518.41 161.01M521.41 209.06L526.58 208.48M526.58 208.48L527.63 203.39M527.63 203.39L523.11 200.82M523.11 200.82L520.62 203.09M520.03 206L521.41 209.06M527.59 217.44L522.42 218.02M522.42 218.02L521.37 223.11M521.37 223.11L525.89 225.68M525.89 225.68L528.38 223.41M528.97 220.5L527.59 217.44M522.42 218.02L519.33 213.83M519.33 213.83L521.41 209.06M526.58 208.48L529.67 212.67M529.67 212.67L527.59 217.44M523.11 200.82L523.07 195.62M523.07 195.62L527.55 192.99M527.55 192.99L532.08 195.56M532.08 195.56L532.11 200.76M532.11 200.76L527.63 203.39M525.89 225.68L525.93 230.88M525.93 230.88L521.45 233.51M521.45 233.51L516.92 230.94M516.92 230.94L516.89 225.74M516.89 225.74L521.37 223.11M527.53 189.6L527.55 192.99M521.47 236.9L521.45 233.51M481.61 257.81L484.1 262.38M484.1 262.38L489.21 261.42M489.21 261.42L489.88 256.27M489.88 256.27L486.85 254.82M483.92 255.37L481.61 257.81M476.19 266.69L473.7 262.12M473.7 262.12L468.59 263.08M468.59 263.08L467.92 268.23M467.92 268.23L470.95 269.68M473.88 269.13L476.19 266.69M473.7 262.12L476.41 257.68M476.41 257.68L481.61 257.81M484.1 262.38L481.39 266.82M481.39 266.82L476.19 266.69M489.88 256.27L494.68 254.27M494.68 254.27L498.81 257.43M498.81 257.43L498.14 262.58M498.14 262.58L493.34 264.58M493.34 264.58L489.21 261.42M467.92 268.23L463.12 270.23M463.12 270.23L458.99 267.07M458.99 267.07L459.66 261.92M459.66 261.92L464.46 259.92M464.46 259.92L468.59 263.08M501.25 255.87L498.81 257.43M456.55 268.63L458.99 267.07M415.89 246.03L413.99 250.87M413.99 250.87L418 254.18M418 254.18L422.38 251.39M422.38 251.39L421.54 248.13M419.25 246.24L415.89 246.03M405.61 247.57L407.51 242.73M407.51 242.73L403.5 239.42M403.5 239.42L399.12 242.21M399.12 242.21L399.96 245.47M402.25 247.36L405.61 247.57M407.51 242.73L412.66 241.96M412.66 241.96L415.89 246.03M413.99 250.87L408.84 251.64M408.84 251.64L405.61 247.57M422.38 251.39L427 253.79M427 253.79L427.22 258.98M427.22 258.98L422.83 261.78M422.83 261.78L418.22 259.37M418.22 259.37L418 254.18M399.12 242.21L394.5 239.81M394.5 239.81L394.28 234.62M394.28 234.62L398.67 231.82M398.67 231.82L403.28 234.23M403.28 234.23L403.5 239.42M430.08 260.61L427.22 258.98M391.42 232.99L394.28 234.62M391.4 186.87L386.22 187.39M386.22 187.39L385.13 192.48M385.13 192.48L389.62 195.09M389.62 195.09L392.13 192.85M392.75 189.94L391.4 186.87M385.3 178.43L390.48 177.91M390.48 177.91L391.57 172.82M391.57 172.82L387.08 170.21M387.08 170.21L384.57 172.45M383.95 175.36L385.3 178.43M390.48 177.91L393.52 182.12M393.52 182.12L391.4 186.87M386.22 187.39L383.18 183.18M383.18 183.18L385.3 178.43M389.62 195.09L389.61 200.29M389.61 200.29L385.1 202.88M385.1 202.88L380.6 200.27M380.6 200.27L380.62 195.07M380.62 195.07L385.13 192.48M387.08 170.21L387.09 165.01M387.09 165.01L391.6 162.42M391.6 162.42L396.1 165.03M396.1 165.03L396.08 170.23M396.08 170.23L391.57 172.82M385.15 206L385.1 202.88M391.55 159.3L391.6 162.42M432.28 137.23L429.55 132.8M429.55 132.8L424.5 134.03M424.5 134.03L424.11 139.21M424.11 139.21L427.21 140.49M430.11 139.79L432.28 137.23M437.22 128.07L439.95 132.5M439.95 132.5L445 131.27M445 131.27L445.39 126.09M445.39 126.09L442.29 124.81M439.39 125.51L437.22 128.07M439.95 132.5L437.48 137.08M437.48 137.08L432.28 137.23M429.55 132.8L432.02 128.22M432.02 128.22L437.22 128.07M424.11 139.21L419.42 141.47M419.42 141.47L415.13 138.53M415.13 138.53L415.52 133.35M415.52 133.35L420.21 131.1M420.21 131.1L424.5 134.03M445.39 126.09L450.08 123.83M450.08 123.83L454.37 126.77M454.37 126.77L453.98 131.95M453.98 131.95L449.29 134.2M449.29 134.2L445 131.27M411.8 140.41L415.13 138.53M457.7 124.89L454.37 126.77" stroke="#262626" stroke-width="1.05" fill="none" stroke-linecap="round"/><path d="M477.98 124L482.65 126.7M478.18 125.8L480.99 127.42M472.44 126.7L472.44 131.1M474.16 126.7L474.16 131.1M468.62 124L463.95 126.7M466.96 123.28L464.15 124.9M469.06 117.85L465.24 115.65M468.19 119.35L464.38 117.15M473.3 115.9L473.3 110.5M474.76 114.82L474.76 111.58M478.41 119.35L482.22 117.15M477.54 117.85L481.36 115.65M536.44 177.75L540.26 179.95M537.31 176.25L541.12 178.45M532.2 179.7L532.2 185.1M530.74 180.78L530.74 184.02M527.09 176.25L523.28 178.45M527.96 177.75L524.14 179.95M527.52 171.6L522.85 168.9M527.32 169.8L524.51 168.18M533.06 168.9L533.06 164.5M531.34 168.9L531.34 164.5M536.88 171.6L541.55 168.9M538.54 172.32L541.35 170.7M521.48 254.9L526.15 257.6M521.68 256.7L524.49 258.32M515.94 257.6L515.94 262M517.66 257.6L517.66 262M512.12 254.9L507.45 257.6M510.46 254.18L507.65 255.8M512.56 248.75L508.74 246.55M511.69 250.25L507.88 248.05M516.8 246.8L516.8 241.4M518.26 245.72L518.26 242.48M521.91 250.25L525.72 248.05M521.04 248.75L524.86 246.55M445.24 275.75L449.06 277.95M446.11 274.25L449.92 276.45M441 277.7L441 283.1M439.54 278.78L439.54 282.02M435.89 274.25L432.08 276.45M436.76 275.75L432.94 277.95M436.32 269.6L431.65 266.9M436.12 267.8L433.31 266.18M441.86 266.9L441.86 262.5M440.14 266.9L440.14 262.5M445.68 269.6L450.35 266.9M447.34 270.32L450.15 268.7M385.18 224L389.85 226.7M385.38 225.8L388.19 227.42M379.64 226.7L379.64 231.1M381.36 226.7L381.36 231.1M375.82 224L371.15 226.7M374.16 223.28L371.35 224.9M376.26 217.85L372.44 215.65M375.39 219.35L371.58 217.15M380.5 215.9L380.5 210.5M381.96 214.82L381.96 211.58M385.61 219.35L389.42 217.15M384.74 217.85L388.56 215.65M400.44 147.45L404.26 149.65M401.31 145.95L405.12 148.15M396.2 149.4L396.2 154.8M394.74 150.48L394.74 153.72M391.09 145.95L387.28 148.15M391.96 147.45L388.14 149.65M391.52 141.3L386.85 138.6M391.32 139.5L388.51 137.88M397.06 138.6L397.06 134.2M395.34 138.6L395.34 134.2M400.88 141.3L405.55 138.6M402.54 142.02L405.35 140.4M491.54 149.06L491.22 150.68M492.66 149.28L492.34 150.9M490.71 147.45L489.11 147.87M491 148.56L489.4 148.98M513.96 146.54L514.28 144.92M512.84 146.32L513.16 144.7M514.79 148.15L516.39 147.73M514.5 147.04L516.1 146.62M517.56 204.35L516.01 204.93M517.96 205.43L516.41 206M518.49 202.8L517.3 201.67M517.71 203.63L516.51 202.5M531.44 222.15L532.99 221.57M531.04 221.07L532.59 220.5M530.51 223.7L531.7 224.83M531.29 222.87L532.49 224M484.51 252.46L483.4 251.25M483.67 253.24L482.56 252.02M486.3 252.74L486.91 251.21M485.24 252.33L485.84 250.79M473.29 272.04L474.4 273.25M474.13 271.26L475.24 272.48M471.5 271.76L470.89 273.29M472.56 272.17L471.96 273.71M421.86 244.83L422.08 243.2M420.73 244.68L420.94 243.05M422.79 246.38L424.36 245.86M422.43 245.3L423.99 244.78M399.64 248.77L399.42 250.4M400.77 248.92L400.56 250.55M398.71 247.22L397.14 247.74M399.07 248.3L397.51 248.82M395.21 191.61L396.76 191.05M394.82 190.54L396.37 189.98M394.25 193.15L395.44 194.3M395.05 192.33L396.23 193.48M381.49 173.69L379.94 174.25M381.88 174.76L380.33 175.32M382.45 172.15L381.26 171M381.65 172.97L380.47 171.82M429.67 142.73L430.85 143.88M430.47 141.91L431.65 143.06M427.87 142.54L427.35 144.11M428.95 142.9L428.43 144.47M439.83 122.57L438.65 121.42M439.03 123.39L437.85 122.24M441.63 122.76L442.15 121.19M440.55 122.4L441.07 120.83" stroke="#262626" stroke-width="0.8925" fill="none" stroke-linecap="round"/><path d="M500.94 151.03L499.09 148.38M500.86 144.62L504.08 144.34M506.45 147.75L505.08 150.68M491.19 140.97L488.43 139.3M514.31 154.63L517.07 156.3M488.51 135.15L491.34 133.59M516.99 160.45L514.16 162.01M494.9 135.74L494.84 138.97M510.6 159.86L510.66 156.63M520.8 213.4L522.09 210.43M526.22 209.97L528.14 212.57M526.48 216.38L523.27 216.74M524.27 199.83L524.25 196.6M524.73 226.67L524.75 229.9M527.83 194.5L530.64 196.09M521.17 232L518.36 230.41M530.67 200.25L527.88 201.88M518.33 226.25L521.12 224.62M477.37 258.88L480.6 258.96M482.59 262.61L480.9 265.37M476.75 265.26L475.2 262.43M491.24 256.97L494.22 255.73M466.56 267.53L463.58 268.77M497.52 258.25L497.11 261.46M460.28 266.25L460.69 263.04M493.27 263.05L490.7 261.09M464.53 261.45L467.1 263.41M412.35 243.46L414.36 245.99M412.84 249.86L409.64 250.33M407.06 247.08L408.24 244.07M422.72 252.88L425.58 254.37M398.78 240.72L395.92 239.23M425.76 258.53L423.03 260.26M395.74 235.07L398.47 233.34M419.35 258.34L419.21 255.11M402.15 235.26L402.29 238.49M392.05 182.54L390.73 185.49M386.6 185.91L384.7 183.29M386.4 179.5L389.62 179.17M388.45 196.07L388.44 199.3M388.25 169.23L388.26 166M384.84 201.37L382.04 199.75M391.86 163.93L394.66 165.55M382.05 195.59L384.86 193.98M394.65 169.71L391.84 171.32M436.46 135.93L433.23 136.03M431.05 132.49L432.58 129.65M436.74 129.53L438.43 132.28M422.71 138.59L419.8 139.99M446.79 126.71L449.7 125.31M416.37 137.64L416.61 134.42M453.13 127.66L452.89 130.88M420.36 132.62L423.03 134.44M449.14 132.68L446.47 130.86" stroke="#262626" stroke-width="0.9450000000000001" fill="none" stroke-linecap="round"/><text x="484.1" y="133.54" font-family="Liberation Sans, Arial, sans-serif" font-size="4.0" fill="#2b2bd0" font-weight="bold" text-anchor="end" stroke="#2b2bd0" stroke-width="0.18">HN</text><text x="473.3" y="134.34" font-family="Liberation Sans, Arial, sans-serif" font-size="4.0" fill="#d23444" font-weight="bold" text-anchor="middle" stroke="#d23444" stroke-width="0.12">O</text><text x="459.27" y="125.44" font-family="Liberation Sans, Arial, sans-serif" font-size="4.0" fill="#2b2bd0" font-weight="bold" text-anchor="middle" stroke="#2b2bd0" stroke-width="0.18">N</text><text x="459.27" y="122.24" font-family="Liberation Sans, Arial, sans-serif" font-size="3.6" fill="#2b2bd0" font-weight="bold" text-anchor="middle" stroke="#2b2bd0" stroke-width="0.18">H</text><text x="463.25" y="116.94" font-family="Liberation Sans, Arial, sans-serif" font-size="4.0" fill="#d23444" font-weight="bold" text-anchor="middle" stroke="#d23444" stroke-width="0.12">O</text><text x="483.35" y="116.94" font-family="Liberation Sans, Arial, sans-serif" font-size="4.0" fill="#d23444" font-weight="bold" text-anchor="middle" stroke="#d23444" stroke-width="0.12">O</text><text x="542.25" y="181.54" font-family="Liberation Sans, Arial, sans-serif" font-size="4.0" fill="#d23444" font-weight="bold" text-anchor="middle" stroke="#d23444" stroke-width="0.12">O</text><text x="528.97" y="189.24" font-family="Liberation Sans, Arial, sans-serif" font-size="4.0" fill="#2b2bd0" font-weight="bold" text-anchor="end" stroke="#2b2bd0" stroke-width="0.18">HN</text><text x="522.15" y="181.54" font-family="Liberation Sans, Arial, sans-serif" font-size="4.0" fill="#d23444" font-weight="bold" text-anchor="middle" stroke="#d23444" stroke-width="0.12">O</text><text x="521.4" y="164.94" font-family="Liberation Sans, Arial, sans-serif" font-size="4.0" fill="#2b2bd0" font-weight="bold" text-anchor="start" stroke="#2b2bd0" stroke-width="0.18">NH</text><text x="532.2" y="164.14" font-family="Liberation Sans, Arial, sans-serif" font-size="4.0" fill="#d23444" font-weight="bold" text-anchor="middle" stroke="#d23444" stroke-width="0.12">O</text><text x="516.8" y="265.24" font-family="Liberation Sans, Arial, sans-serif" font-size="4.0" fill="#d23444" font-weight="bold" text-anchor="middle" stroke="#d23444" stroke-width="0.12">O</text><text x="502.77" y="256.34" font-family="Liberation Sans, Arial, sans-serif" font-size="4.0" fill="#2b2bd0" font-weight="bold" text-anchor="middle" stroke="#2b2bd0" stroke-width="0.18">N</text><text x="502.77" y="253.14" font-family="Liberation Sans, Arial, sans-serif" font-size="3.6" fill="#2b2bd0" font-weight="bold" text-anchor="middle" stroke="#2b2bd0" stroke-width="0.18">H</text><text x="506.75" y="247.84" font-family="Liberation Sans, Arial, sans-serif" font-size="4.0" fill="#d23444" font-weight="bold" text-anchor="middle" stroke="#d23444" stroke-width="0.12">O</text><text x="520.03" y="240.14" font-family="Liberation Sans, Arial, sans-serif" font-size="4.0" fill="#2b2bd0" font-weight="bold" text-anchor="start" stroke="#2b2bd0" stroke-width="0.18">NH</text><text x="526.85" y="247.84" font-family="Liberation Sans, Arial, sans-serif" font-size="4.0" fill="#d23444" font-weight="bold" text-anchor="middle" stroke="#d23444" stroke-width="0.12">O</text><text x="451.05" y="279.54" font-family="Liberation Sans, Arial, sans-serif" font-size="4.0" fill="#d23444" font-weight="bold" text-anchor="middle" stroke="#d23444" stroke-width="0.12">O</text><text x="430.95" y="279.54" font-family="Liberation Sans, Arial, sans-serif" font-size="4.0" fill="#d23444" font-weight="bold" text-anchor="middle" stroke="#d23444" stroke-width="0.12">O</text><text x="430.2" y="262.94" font-family="Liberation Sans, Arial, sans-serif" font-size="4.0" fill="#2b2bd0" font-weight="bold" text-anchor="start" stroke="#2b2bd0" stroke-width="0.18">NH</text><text x="441" y="262.14" font-family="Liberation Sans, Arial, sans-serif" font-size="4.0" fill="#d23444" font-weight="bold" text-anchor="middle" stroke="#d23444" stroke-width="0.12">O</text><text x="455.03" y="271.04" font-family="Liberation Sans, Arial, sans-serif" font-size="4.0" fill="#2b2bd0" font-weight="bold" text-anchor="middle" stroke="#2b2bd0" stroke-width="0.18">N</text><text x="455.03" y="274.24" font-family="Liberation Sans, Arial, sans-serif" font-size="3.6" fill="#2b2bd0" font-weight="bold" text-anchor="middle" stroke="#2b2bd0" stroke-width="0.18">H</text><text x="391.3" y="233.54" font-family="Liberation Sans, Arial, sans-serif" font-size="4.0" fill="#2b2bd0" font-weight="bold" text-anchor="end" stroke="#2b2bd0" stroke-width="0.18">HN</text><text x="380.5" y="234.34" font-family="Liberation Sans, Arial, sans-serif" font-size="4.0" fill="#d23444" font-weight="bold" text-anchor="middle" stroke="#d23444" stroke-width="0.12">O</text><text x="370.45" y="216.94" font-family="Liberation Sans, Arial, sans-serif" font-size="4.0" fill="#d23444" font-weight="bold" text-anchor="middle" stroke="#d23444" stroke-width="0.12">O</text><text x="383.73" y="209.24" font-family="Liberation Sans, Arial, sans-serif" font-size="4.0" fill="#2b2bd0" font-weight="bold" text-anchor="start" stroke="#2b2bd0" stroke-width="0.18">NH</text><text x="390.55" y="216.94" font-family="Liberation Sans, Arial, sans-serif" font-size="4.0" fill="#d23444" font-weight="bold" text-anchor="middle" stroke="#d23444" stroke-width="0.12">O</text><text x="406.25" y="151.24" font-family="Liberation Sans, Arial, sans-serif" font-size="4.0" fill="#d23444" font-weight="bold" text-anchor="middle" stroke="#d23444" stroke-width="0.12">O</text><text x="392.97" y="158.94" font-family="Liberation Sans, Arial, sans-serif" font-size="4.0" fill="#2b2bd0" font-weight="bold" text-anchor="end" stroke="#2b2bd0" stroke-width="0.18">HN</text><text x="386.15" y="151.24" font-family="Liberation Sans, Arial, sans-serif" font-size="4.0" fill="#d23444" font-weight="bold" text-anchor="middle" stroke="#d23444" stroke-width="0.12">O</text><text x="396.2" y="133.84" font-family="Liberation Sans, Arial, sans-serif" font-size="4.0" fill="#d23444" font-weight="bold" text-anchor="middle" stroke="#d23444" stroke-width="0.12">O</text><text x="410.23" y="142.74" font-family="Liberation Sans, Arial, sans-serif" font-size="4.0" fill="#2b2bd0" font-weight="bold" text-anchor="middle" stroke="#2b2bd0" stroke-width="0.18">N</text><text x="410.23" y="145.94" font-family="Liberation Sans, Arial, sans-serif" font-size="3.6" fill="#2b2bd0" font-weight="bold" text-anchor="middle" stroke="#2b2bd0" stroke-width="0.18">H</text><text x="492.41" y="149.25" font-family="Liberation Sans, Arial, sans-serif" font-size="4.6" fill="#d9cc1e" font-weight="bold" text-anchor="middle" stroke="#d9cc1e" stroke-width="0.18">S</text><text x="491.45" y="153.88" font-family="Liberation Sans, Arial, sans-serif" font-size="4.0" fill="#e3262d" font-weight="normal" text-anchor="middle">O</text><text x="487.63" y="150.3" font-family="Liberation Sans, Arial, sans-serif" font-size="4.0" fill="#e3262d" font-weight="normal" text-anchor="middle">O</text><text x="513.09" y="149.66" font-family="Liberation Sans, Arial, sans-serif" font-size="4.6" fill="#d9cc1e" font-weight="bold" text-anchor="middle" stroke="#d9cc1e" stroke-width="0.18">S</text><text x="514.05" y="144.6" font-family="Liberation Sans, Arial, sans-serif" font-size="4.0" fill="#e3262d" font-weight="normal" text-anchor="middle">O</text><text x="517.87" y="148.18" font-family="Liberation Sans, Arial, sans-serif" font-size="4.0" fill="#e3262d" font-weight="normal" text-anchor="middle">O</text><text x="519.27" y="205.98" font-family="Liberation Sans, Arial, sans-serif" font-size="4.6" fill="#d9cc1e" font-weight="bold" text-anchor="middle" stroke="#d9cc1e" stroke-width="0.18">S</text><text x="514.64" y="207.49" font-family="Liberation Sans, Arial, sans-serif" font-size="4.0" fill="#e3262d" font-weight="normal" text-anchor="middle">O</text><text x="515.69" y="202.36" font-family="Liberation Sans, Arial, sans-serif" font-size="4.0" fill="#e3262d" font-weight="normal" text-anchor="middle">O</text><text x="529.73" y="223.83" font-family="Liberation Sans, Arial, sans-serif" font-size="4.6" fill="#d9cc1e" font-weight="bold" text-anchor="middle" stroke="#d9cc1e" stroke-width="0.18">S</text><text x="534.36" y="221.89" font-family="Liberation Sans, Arial, sans-serif" font-size="4.0" fill="#e3262d" font-weight="normal" text-anchor="middle">O</text><text x="533.31" y="227.02" font-family="Liberation Sans, Arial, sans-serif" font-size="4.0" fill="#e3262d" font-weight="normal" text-anchor="middle">O</text><text x="485.18" y="255.69" font-family="Liberation Sans, Arial, sans-serif" font-size="4.6" fill="#d9cc1e" font-weight="bold" text-anchor="middle" stroke="#d9cc1e" stroke-width="0.18">S</text><text x="481.84" y="251.84" font-family="Liberation Sans, Arial, sans-serif" font-size="4.0" fill="#e3262d" font-weight="normal" text-anchor="middle">O</text><text x="486.99" y="250.87" font-family="Liberation Sans, Arial, sans-serif" font-size="4.0" fill="#e3262d" font-weight="normal" text-anchor="middle">O</text><text x="472.62" y="272.12" font-family="Liberation Sans, Arial, sans-serif" font-size="4.6" fill="#d9cc1e" font-weight="bold" text-anchor="middle" stroke="#d9cc1e" stroke-width="0.18">S</text><text x="475.96" y="275.54" font-family="Liberation Sans, Arial, sans-serif" font-size="4.0" fill="#e3262d" font-weight="normal" text-anchor="middle">O</text><text x="470.81" y="276.51" font-family="Liberation Sans, Arial, sans-serif" font-size="4.0" fill="#e3262d" font-weight="normal" text-anchor="middle">O</text><text x="421.08" y="248.01" font-family="Liberation Sans, Arial, sans-serif" font-size="4.6" fill="#d9cc1e" font-weight="bold" text-anchor="middle" stroke="#d9cc1e" stroke-width="0.18">S</text><text x="421.73" y="242.89" font-family="Liberation Sans, Arial, sans-serif" font-size="4.0" fill="#e3262d" font-weight="normal" text-anchor="middle">O</text><text x="425.77" y="246.23" font-family="Liberation Sans, Arial, sans-serif" font-size="4.0" fill="#e3262d" font-weight="normal" text-anchor="middle">O</text><text x="400.42" y="248.9" font-family="Liberation Sans, Arial, sans-serif" font-size="4.6" fill="#d9cc1e" font-weight="bold" text-anchor="middle" stroke="#d9cc1e" stroke-width="0.18">S</text><text x="399.77" y="253.59" font-family="Liberation Sans, Arial, sans-serif" font-size="4.0" fill="#e3262d" font-weight="normal" text-anchor="middle">O</text><text x="395.73" y="250.25" font-family="Liberation Sans, Arial, sans-serif" font-size="4.0" fill="#e3262d" font-weight="normal" text-anchor="middle">O</text><text x="393.5" y="193.28" font-family="Liberation Sans, Arial, sans-serif" font-size="4.6" fill="#d9cc1e" font-weight="bold" text-anchor="middle" stroke="#d9cc1e" stroke-width="0.18">S</text><text x="398.14" y="191.38" font-family="Liberation Sans, Arial, sans-serif" font-size="4.0" fill="#e3262d" font-weight="normal" text-anchor="middle">O</text><text x="397.04" y="196.5" font-family="Liberation Sans, Arial, sans-serif" font-size="4.0" fill="#e3262d" font-weight="normal" text-anchor="middle">O</text><text x="383.2" y="175.33" font-family="Liberation Sans, Arial, sans-serif" font-size="4.6" fill="#d9cc1e" font-weight="bold" text-anchor="middle" stroke="#d9cc1e" stroke-width="0.18">S</text><text x="378.56" y="176.8" font-family="Liberation Sans, Arial, sans-serif" font-size="4.0" fill="#e3262d" font-weight="normal" text-anchor="middle">O</text><text x="379.66" y="171.68" font-family="Liberation Sans, Arial, sans-serif" font-size="4.0" fill="#e3262d" font-weight="normal" text-anchor="middle">O</text><text x="428.92" y="142.85" font-family="Liberation Sans, Arial, sans-serif" font-size="4.6" fill="#d9cc1e" font-weight="bold" text-anchor="middle" stroke="#d9cc1e" stroke-width="0.18">S</text><text x="432.45" y="146.08" font-family="Liberation Sans, Arial, sans-serif" font-size="4.0" fill="#e3262d" font-weight="normal" text-anchor="middle">O</text><text x="427.36" y="147.32" font-family="Liberation Sans, Arial, sans-serif" font-size="4.0" fill="#e3262d" font-weight="normal" text-anchor="middle">O</text><text x="440.58" y="125.77" font-family="Liberation Sans, Arial, sans-serif" font-size="4.6" fill="#d9cc1e" font-weight="bold" text-anchor="middle" stroke="#d9cc1e" stroke-width="0.18">S</text><text x="437.05" y="122.1" font-family="Liberation Sans, Arial, sans-serif" font-size="4.0" fill="#e3262d" font-weight="normal" text-anchor="middle">O</text><text x="442.14" y="120.86" font-family="Liberation Sans, Arial, sans-serif" font-size="4.0" fill="#e3262d" font-weight="normal" text-anchor="middle">O</text><polygon points="42.57,61.24 49.31,66.82 46.09,74.96 37.36,74.41 35.18,65.93" fill="#c6c6c6"/><polygon points="46.09,74.96 49.31,66.82 57.97,65.54 63.4,72.4 60.18,80.54 51.52,81.81" fill="#c6c6c6"/><polygon points="37.36,74.41 35.18,65.93 26.75,63.58 20.5,69.7 22.68,78.18 31.1,80.53" fill="#c6c6c6"/><polygon points="223.9,61.81 230.74,66.78 228.12,74.81 219.67,74.81 217.06,66.78" fill="#f2a877"/><polygon points="228.12,74.81 230.74,66.78 239,65.02 244.66,71.3 242.04,79.34 233.78,81.09" fill="#f2a877"/><polygon points="219.67,74.81 217.06,66.78 208.8,65.02 203.14,71.3 205.76,79.34 214.02,81.09" fill="#f2a877"/><polygon points="417.61,65.71 411.86,59.32 403.45,61.11 400.79,69.29 406.54,75.68 414.95,73.89" fill="#5280d6"/><polygon points="403.45,61.11 400.79,69.29 392.19,69.29 389.53,61.11 396.49,56.05" fill="#5280d6"/><polygon points="414.95,73.89 417.61,65.71 426.21,65.71 428.87,73.89 421.91,78.95" fill="#5280d6"/><polygon points="392.19,69.29 389.53,61.11 381.12,59.32 375.36,65.71 378.02,73.89 386.43,75.68" fill="#5280d6"/><polygon points="426.21,65.71 428.87,73.89 437.28,75.68 443.04,69.29 440.38,61.11 431.97,59.32" fill="#5280d6"/><path d="M280.46 32.3L271.8 37.3M271.8 37.3L263.14 32.3M263.14 32.3L263.14 22.3M263.14 22.3L271.8 17.3M271.8 17.3L280.46 22.3M280.46 22.3L280.46 32.3M271.8 17.3L271.8 10.9M263.14 22.3L254.7 17.6M254.7 17.6L254.63 10.7M280.46 22.3L288.9 17.6M288.9 17.6L288.97 10.7M263.14 32.3L257.45 36.71M280.46 32.3L286.15 36.71M271.8 37.3L271.8 47.4M271.8 47.4L278.35 51.36" stroke="#262626" stroke-width="1.45" fill="none" stroke-linecap="round"/><path d="M278.38 24.11L278.38 30.49M271.27 34.6L265.74 31.4M265.74 23.2L271.27 20M256.4 16.4L256.33 10.7M287.2 16.4L287.27 10.7M273.99 46.74L279.23 49.9" stroke="#262626" stroke-width="1.305" fill="none" stroke-linecap="round"/><path d="M42.57 61.24L49.31 66.82M35.18 65.93L42.57 61.24M49.31 66.82L46.09 74.96M46.09 74.96L37.36 74.41M37.36 74.41L35.18 65.93M49.31 66.82L57.97 65.54M57.97 65.54L63.4 72.4M63.4 72.4L60.18 80.54M60.18 80.54L51.52 81.81M51.52 81.81L46.09 74.96M35.18 65.93L26.75 63.58M26.75 63.58L20.5 69.7M20.5 69.7L22.68 78.18M22.68 78.18L31.1 80.53M31.1 80.53L37.36 74.41M20.5 69.7L14.71 68.08M63.4 72.4L69.35 71.52M225.71 63.13L230.74 66.78M217.06 66.78L222.09 63.13M230.74 66.78L228.12 74.81M228.12 74.81L219.67 74.81M219.67 74.81L217.06 66.78M230.74 66.78L239 65.02M239 65.02L244.66 71.3M244.66 71.3L242.04 79.34M242.04 79.34L233.78 81.09M233.78 81.09L228.12 74.81M217.06 66.78L208.8 65.02M208.8 65.02L203.14 71.3M203.14 71.3L205.76 79.34M205.76 79.34L214.02 81.09M214.02 81.09L219.67 74.81M203.14 71.3L197.54 70.11M244.66 71.3L250.26 70.11M403.45 61.11L400.79 69.29M400.79 69.29L392.19 69.29M392.19 69.29L389.53 61.11M389.53 61.11L394.68 57.37M398.3 57.37L403.45 61.11M414.95 73.89L417.61 65.71M417.61 65.71L426.21 65.71M426.21 65.71L428.87 73.89M428.87 73.89L423.72 77.63M420.1 77.63L414.95 73.89M417.61 65.71L411.86 59.32M411.86 59.32L403.45 61.11M400.79 69.29L406.54 75.68M406.54 75.68L414.95 73.89M389.53 61.11L381.12 59.32M381.12 59.32L375.36 65.71M375.36 65.71L378.02 73.89M378.02 73.89L386.43 75.68M386.43 75.68L392.19 69.29M428.87 73.89L437.28 75.68M437.28 75.68L443.04 69.29M443.04 69.29L440.38 61.11M440.38 61.11L431.97 59.32M431.97 59.32L426.21 65.71M375.36 65.71L369.62 64.49M443.04 69.29L448.78 70.51" stroke="#262626" stroke-width="1.4" fill="none" stroke-linecap="round"/><path d="M48.53 74.14L50.53 69.09M57.45 68.06L60.83 72.33M58.25 78.83L52.87 79.62M35.04 73.29L33.68 68.02M26.95 66.14L23.06 69.95M24.8 76.72L30.04 78.19M230.43 73.88L232.05 68.89M238.66 67.48L242.17 71.39M240.09 77.81L234.95 78.9M217.37 73.88L215.75 68.89M209.14 67.48L205.63 71.39M207.71 77.81L212.85 78.9M410.67 61.55L405.44 62.66M403.32 69.2L406.89 73.17M413.62 71.75L415.27 66.66M387.54 62.66L382.31 61.55M430.86 72.34L436.09 73.45M377.71 66.66L379.36 71.75M440.69 68.34L439.04 63.25M386.08 73.17L389.66 69.2M432.32 61.83L428.74 65.8" stroke="#262626" stroke-width="1.26" fill="none" stroke-linecap="round"/><path d="M223.65 59.66L221.68 56.5M222.07 60.64L220.1 57.49M225.73 60.64L227.7 57.49M224.15 59.66L226.12 56.5M396.25 53.89L394.21 50.62M394.65 54.89L392.6 51.62M398.33 54.89L400.37 51.62M396.72 53.89L398.77 50.62M422.15 81.11L424.19 84.38M423.75 80.11L425.8 83.38M420.07 80.11L418.03 83.38M421.68 81.11L419.63 84.38" stroke="#262626" stroke-width="1.19" fill="none" stroke-linecap="round"/><path d="M234.5 32.5H85.5V97" stroke="#000" stroke-width="1.3" fill="none"/><path d="M302.7 32.5H470.5V97" stroke="#000" stroke-width="1.3" fill="none"/><path d="M269.4 56.5V97" stroke="#000" stroke-width="1.3" fill="none"/><polygon points="82.4,95.4 85.5,96.8 88.6,95.4 85.5,102.0" fill="#000"/><polygon points="467.4,95.4 470.5,96.8 473.6,95.4 470.5,102.0" fill="#000"/><polygon points="266.3,95.4 269.4,96.8 272.5,95.4 269.4,102.0" fill="#000"/><text x="269.54" y="10.39" font-family="Liberation Sans, Arial, sans-serif" font-size="5.8" fill="#e3262d" font-weight="bold" text-anchor="start" stroke="#e3262d" stroke-width="0.18">OH</text><text x="254.6" y="10.39" font-family="Liberation Sans, Arial, sans-serif" font-size="5.8" fill="#e3262d" font-weight="bold" text-anchor="middle" stroke="#e3262d" stroke-width="0.18">O</text><text x="289" y="10.39" font-family="Liberation Sans, Arial, sans-serif" font-size="5.8" fill="#e3262d" font-weight="bold" text-anchor="middle" stroke="#e3262d" stroke-width="0.18">O</text><text x="257.66" y="40.39" font-family="Liberation Sans, Arial, sans-serif" font-size="5.8" fill="#e3262d" font-weight="bold" text-anchor="end" stroke="#e3262d" stroke-width="0.18">HO</text><text x="285.94" y="40.39" font-family="Liberation Sans, Arial, sans-serif" font-size="5.8" fill="#e3262d" font-weight="bold" text-anchor="start" stroke="#e3262d" stroke-width="0.18">OH</text><text x="280.4" y="54.69" font-family="Liberation Sans, Arial, sans-serif" font-size="5.8" fill="#e3262d" font-weight="bold" text-anchor="middle" stroke="#e3262d" stroke-width="0.18">O</text><text x="259.4" y="51" font-family="Liberation Sans, Arial, sans-serif" font-size="8.6" fill="#000" font-weight="bold" text-anchor="start" stroke="#000" stroke-width="0.3">Tp</text><text x="14.48" y="69.44" font-family="Liberation Sans, Arial, sans-serif" font-size="5.5" fill="#2b2bd0" font-weight="bold" text-anchor="end">H<tspan font-size="3.85" dy="1.38">2</tspan><tspan dy="-1.38">N</tspan></text><text x="69.64" y="73.17" font-family="Liberation Sans, Arial, sans-serif" font-size="5.5" fill="#2b2bd0" font-weight="bold" text-anchor="start" stroke="#2b2bd0" stroke-width="0.18">NH<tspan font-size="3.85" dy="1.38">2</tspan></text><text x="42.1" y="90.4" font-family="Liberation Sans, Arial, sans-serif" font-size="9.6" fill="#111" font-weight="bold" text-anchor="middle" stroke="#111" stroke-width="0.3">DAF</text><text x="223.9" y="63.83" font-family="Liberation Sans, Arial, sans-serif" font-size="5.6" fill="#d9cc1e" font-weight="bold" text-anchor="middle" stroke="#d9cc1e" stroke-width="0.18">S</text><text x="219.65" y="57.02" font-family="Liberation Sans, Arial, sans-serif" font-size="5.6" fill="#e3262d" font-weight="normal" text-anchor="middle">O</text><text x="228.15" y="57.02" font-family="Liberation Sans, Arial, sans-serif" font-size="5.6" fill="#e3262d" font-weight="normal" text-anchor="middle">O</text><text x="197.28" y="71.61" font-family="Liberation Sans, Arial, sans-serif" font-size="5.5" fill="#2b2bd0" font-weight="bold" text-anchor="end">H<tspan font-size="3.85" dy="1.38">2</tspan><tspan dy="-1.38">N</tspan></text><text x="250.52" y="71.61" font-family="Liberation Sans, Arial, sans-serif" font-size="5.5" fill="#2b2bd0" font-weight="bold" text-anchor="start" stroke="#2b2bd0" stroke-width="0.18">NH<tspan font-size="3.85" dy="1.38">2</tspan></text><text x="225.5" y="90.5" font-family="Liberation Sans, Arial, sans-serif" font-size="9.6" fill="#111" font-weight="bold" text-anchor="middle" stroke="#111" stroke-width="0.3">SA</text><text x="396.49" y="58.07" font-family="Liberation Sans, Arial, sans-serif" font-size="5.6" fill="#d9cc1e" font-weight="bold" text-anchor="middle" stroke="#d9cc1e" stroke-width="0.18">S</text><text x="392.16" y="51.14" font-family="Liberation Sans, Arial, sans-serif" font-size="5.6" fill="#e3262d" font-weight="normal" text-anchor="middle">O</text><text x="400.82" y="51.14" font-family="Liberation Sans, Arial, sans-serif" font-size="5.6" fill="#e3262d" font-weight="normal" text-anchor="middle">O</text><text x="421.91" y="80.96" font-family="Liberation Sans, Arial, sans-serif" font-size="5.6" fill="#d9cc1e" font-weight="bold" text-anchor="middle" stroke="#d9cc1e" stroke-width="0.18">S</text><text x="426.24" y="87.89" font-family="Liberation Sans, Arial, sans-serif" font-size="5.6" fill="#e3262d" font-weight="normal" text-anchor="middle">O</text><text x="417.58" y="87.89" font-family="Liberation Sans, Arial, sans-serif" font-size="5.6" fill="#e3262d" font-weight="normal" text-anchor="middle">O</text><text x="369.36" y="65.99" font-family="Liberation Sans, Arial, sans-serif" font-size="5.5" fill="#2b2bd0" font-weight="bold" text-anchor="end">H<tspan font-size="3.85" dy="1.38">2</tspan><tspan dy="-1.38">N</tspan></text><text x="449.04" y="72.97" font-family="Liberation Sans, Arial, sans-serif" font-size="5.5" fill="#2b2bd0" font-weight="bold" text-anchor="start" stroke="#2b2bd0" stroke-width="0.18">NH<tspan font-size="3.85" dy="1.38">2</tspan></text><text x="401.2" y="89.8" font-family="Liberation Sans, Arial, sans-serif" font-size="9.6" fill="#111" font-weight="bold" text-anchor="middle" stroke="#111" stroke-width="0.3">FSA</text><text x="116" y="72.2" font-family="Liberation Sans, Arial, sans-serif" font-size="8.2" fill="#111" font-weight="bold" text-anchor="middle" stroke="#111" stroke-width="0.3">Dioxane/HOAc</text><text x="116" y="81.2" font-family="Liberation Sans, Arial, sans-serif" font-size="8.2" fill="#111" font-weight="bold" text-anchor="middle" stroke="#111" stroke-width="0.3">120℃ 5d</text><text x="300.6" y="66.8" font-family="Liberation Sans, Arial, sans-serif" font-size="8.2" fill="#111" font-weight="bold" text-anchor="middle" stroke="#111" stroke-width="0.3">Mesitylene</text><text x="300.6" y="76.4" font-family="Liberation Sans, Arial, sans-serif" font-size="8.2" fill="#111" font-weight="bold" text-anchor="middle" stroke="#111" stroke-width="0.3">Dioxane/HOAc</text><text x="300.6" y="86.1" font-family="Liberation Sans, Arial, sans-serif" font-size="8.2" fill="#111" font-weight="bold" text-anchor="middle" stroke="#111" stroke-width="0.3">120℃ 3d</text><text x="501.1" y="66.3" font-family="Liberation Sans, Arial, sans-serif" font-size="8.2" fill="#111" font-weight="bold" text-anchor="middle" stroke="#111" stroke-width="0.3">Mesitylene</text><text x="501.1" y="76.6" font-family="Liberation Sans, Arial, sans-serif" font-size="8.2" fill="#111" font-weight="bold" text-anchor="middle" stroke="#111" stroke-width="0.3">Dioxane/HOAc</text><text x="501.1" y="86.4" font-family="Liberation Sans, Arial, sans-serif" font-size="8.2" fill="#111" font-weight="bold" text-anchor="middle" stroke="#111" stroke-width="0.3">120℃ 3d</text><text x="25.4" y="29" font-family="Liberation Serif, Times New Roman, serif" font-size="11" fill="#111" font-weight="normal" text-anchor="start">(a)</text><text x="78.9" y="197.4" font-family="Liberation Sans, Arial, sans-serif" font-size="10.3" fill="#111" font-weight="bold" text-anchor="start" stroke="#111" stroke-width="0.3">C-COFs</text><text x="251.6" y="197.7" font-family="Liberation Sans, Arial, sans-serif" font-size="10.3" fill="#111" font-weight="bold" text-anchor="start" stroke="#111" stroke-width="0.3">S-COFs</text><text x="441.5" y="197.7" font-family="Liberation Sans, Arial, sans-serif" font-size="10.2" fill="#111" font-weight="bold" text-anchor="start" stroke="#111" stroke-width="0.3">FS-COFs</text><text x="63.8" y="458.85" font-family="Liberation Sans, Arial, sans-serif" font-size="7.4" fill="#1a1a1a" font-weight="bold" text-anchor="end" stroke="#1a1a1a" stroke-width="0.3">0</text><text x="63.8" y="423.02" font-family="Liberation Sans, Arial, sans-serif" font-size="7.4" fill="#1a1a1a" font-weight="bold" text-anchor="end" stroke="#1a1a1a" stroke-width="0.3">100</text><text x="63.8" y="387.19" font-family="Liberation Sans, Arial, sans-serif" font-size="7.4" fill="#1a1a1a" font-weight="bold" text-anchor="end" stroke="#1a1a1a" stroke-width="0.3">200</text><text x="63.8" y="351.36" font-family="Liberation Sans, Arial, sans-serif" font-size="7.4" fill="#1a1a1a" font-weight="bold" text-anchor="end" stroke="#1a1a1a" stroke-width="0.3">300</text><text x="63.8" y="315.53" font-family="Liberation Sans, Arial, sans-serif" font-size="7.4" fill="#1a1a1a" font-weight="bold" text-anchor="end" stroke="#1a1a1a" stroke-width="0.3">400</text><text x="74.5" y="473.1" font-family="Liberation Sans, Arial, sans-serif" font-size="7.4" fill="#1a1a1a" font-weight="bold" text-anchor="middle" stroke="#1a1a1a" stroke-width="0.3">0</text><text x="103.32" y="473.1" font-family="Liberation Sans, Arial, sans-serif" font-size="7.4" fill="#1a1a1a" font-weight="bold" text-anchor="middle" stroke="#1a1a1a" stroke-width="0.3">10</text><text x="132.14" y="473.1" font-family="Liberation Sans, Arial, sans-serif" font-size="7.4" fill="#1a1a1a" font-weight="bold" text-anchor="middle" stroke="#1a1a1a" stroke-width="0.3">20</text><text x="160.96" y="473.1" font-family="Liberation Sans, Arial, sans-serif" font-size="7.4" fill="#1a1a1a" font-weight="bold" text-anchor="middle" stroke="#1a1a1a" stroke-width="0.3">30</text><text x="189.78" y="473.1" font-family="Liberation Sans, Arial, sans-serif" font-size="7.4" fill="#1a1a1a" font-weight="bold" text-anchor="middle" stroke="#1a1a1a" stroke-width="0.3">40</text><text x="218.6" y="473.1" font-family="Liberation Sans, Arial, sans-serif" font-size="7.4" fill="#1a1a1a" font-weight="bold" text-anchor="middle" stroke="#1a1a1a" stroke-width="0.3">50</text><text x="247.42" y="473.1" font-family="Liberation Sans, Arial, sans-serif" font-size="7.4" fill="#1a1a1a" font-weight="bold" text-anchor="middle" stroke="#1a1a1a" stroke-width="0.3">60</text><path d="M69 456.2H66M69 438.28H67.7M69 420.37H66M69 402.45H67.7M69 384.54H66M69 366.62H67.7M69 348.71H66M69 330.79H67.7M69 312.88H66M74.5 462V465.2M88.91 462V463.5M103.32 462V465.2M117.73 462V463.5M132.14 462V465.2M146.55 462V463.5M160.96 462V465.2M175.37 462V463.5M189.78 462V465.2M204.19 462V463.5M218.6 462V465.2M233.01 462V463.5M247.42 462V465.2" stroke="#1a1a1a" stroke-width="1.1" fill="none"/><rect x="69.0" y="306.1" width="192.7" height="155.9" fill="none" stroke="#1a1a1a" stroke-width="1.5"/><polyline points="74.5,456.2 117.73,441.15 160.96,428.97 204.19,419.65 247.42,412.49" fill="none" stroke="#4a4a4a" stroke-width="1.2"/><polyline points="74.5,456.2 117.73,428.97 160.96,403.89 204.19,377.02 247.42,353.73" fill="none" stroke="#e63b3b" stroke-width="1.2"/><polyline points="74.5,456.2 117.73,420.01 160.96,385.26 204.19,349.78 247.42,321.84" fill="none" stroke="#2d6fdc" stroke-width="1.2"/><rect x="71.7" y="453.55" width="5.6" height="5.3" fill="#fff" stroke="#4a4a4a" stroke-width="1.0"/><rect x="71.2" y="453.05" width="3.7" height="6.3" fill="#4a4a4a"/><rect x="114.93" y="438.5" width="5.6" height="5.3" fill="#fff" stroke="#4a4a4a" stroke-width="1.0"/><rect x="114.43" y="438" width="3.7" height="6.3" fill="#4a4a4a"/><rect x="158.16" y="426.32" width="5.6" height="5.3" fill="#fff" stroke="#4a4a4a" stroke-width="1.0"/><rect x="157.66" y="425.82" width="3.7" height="6.3" fill="#4a4a4a"/><rect x="201.39" y="417" width="5.6" height="5.3" fill="#fff" stroke="#4a4a4a" stroke-width="1.0"/><rect x="200.89" y="416.5" width="3.7" height="6.3" fill="#4a4a4a"/><rect x="244.62" y="409.84" width="5.6" height="5.3" fill="#fff" stroke="#4a4a4a" stroke-width="1.0"/><rect x="244.12" y="409.34" width="3.7" height="6.3" fill="#4a4a4a"/><rect x="71.7" y="453.55" width="5.6" height="5.3" fill="#fff" stroke="#e63b3b" stroke-width="1.0"/><rect x="71.2" y="453.05" width="3.7" height="6.3" fill="#e63b3b"/><rect x="114.93" y="426.32" width="5.6" height="5.3" fill="#fff" stroke="#e63b3b" stroke-width="1.0"/><rect x="114.43" y="425.82" width="3.7" height="6.3" fill="#e63b3b"/><rect x="158.16" y="401.24" width="5.6" height="5.3" fill="#fff" stroke="#e63b3b" stroke-width="1.0"/><rect x="157.66" y="400.74" width="3.7" height="6.3" fill="#e63b3b"/><rect x="201.39" y="374.37" width="5.6" height="5.3" fill="#fff" stroke="#e63b3b" stroke-width="1.0"/><rect x="200.89" y="373.87" width="3.7" height="6.3" fill="#e63b3b"/><rect x="244.62" y="351.08" width="5.6" height="5.3" fill="#fff" stroke="#e63b3b" stroke-width="1.0"/><rect x="244.12" y="350.58" width="3.7" height="6.3" fill="#e63b3b"/><rect x="71.7" y="453.55" width="5.6" height="5.3" fill="#fff" stroke="#2d6fdc" stroke-width="1.0"/><rect x="71.2" y="453.05" width="3.7" height="6.3" fill="#2d6fdc"/><rect x="114.93" y="417.36" width="5.6" height="5.3" fill="#fff" stroke="#2d6fdc" stroke-width="1.0"/><rect x="114.43" y="416.86" width="3.7" height="6.3" fill="#2d6fdc"/><rect x="158.16" y="382.61" width="5.6" height="5.3" fill="#fff" stroke="#2d6fdc" stroke-width="1.0"/><rect x="157.66" y="382.11" width="3.7" height="6.3" fill="#2d6fdc"/><rect x="201.39" y="347.13" width="5.6" height="5.3" fill="#fff" stroke="#2d6fdc" stroke-width="1.0"/><rect x="200.89" y="346.63" width="3.7" height="6.3" fill="#2d6fdc"/><rect x="244.62" y="319.19" width="5.6" height="5.3" fill="#fff" stroke="#2d6fdc" stroke-width="1.0"/><rect x="244.12" y="318.69" width="3.7" height="6.3" fill="#2d6fdc"/><path d="M74.3 319.5H96.3" stroke="#4a4a4a" stroke-width="1.2"/><rect x="82.65" y="316.7" width="5.9" height="5.6" fill="#fff" stroke="#4a4a4a" stroke-width="1.0"/><rect x="82.15" y="316.2" width="3.86" height="6.6" fill="#4a4a4a"/><text x="99.2" y="322.6" font-family="Liberation Sans, Arial, sans-serif" font-size="9.2" fill="#1a1a1a" font-weight="bold" text-anchor="start" stroke="#1a1a1a" stroke-width="0.3">C-COFs</text><path d="M74.3 331.5H96.3" stroke="#e63b3b" stroke-width="1.2"/><rect x="82.65" y="328.7" width="5.9" height="5.6" fill="#fff" stroke="#e63b3b" stroke-width="1.0"/><rect x="82.15" y="328.2" width="3.86" height="6.6" fill="#e63b3b"/><text x="99.2" y="334.6" font-family="Liberation Sans, Arial, sans-serif" font-size="9.2" fill="#1a1a1a" font-weight="bold" text-anchor="start" stroke="#1a1a1a" stroke-width="0.3">S-COFs</text><path d="M74.3 343.5H96.3" stroke="#2d6fdc" stroke-width="1.2"/><rect x="82.65" y="340.7" width="5.9" height="5.6" fill="#fff" stroke="#2d6fdc" stroke-width="1.0"/><rect x="82.15" y="340.2" width="3.86" height="6.6" fill="#2d6fdc"/><text x="99.2" y="346.6" font-family="Liberation Sans, Arial, sans-serif" font-size="9.2" fill="#1a1a1a" font-weight="bold" text-anchor="start" stroke="#1a1a1a" stroke-width="0.3">FS-COFs</text><text x="151" y="383.6" font-family="Liberation Sans, Arial, sans-serif" font-size="8.4" fill="#2d6fdc" stroke="#2d6fdc" stroke-width="0.25" transform="rotate(-39.6 151 383.6)">1501.6 μmol h<tspan dy="-2.8" font-size="5.2">-1</tspan><tspan dy="2.8"> </tspan>g<tspan dy="-2.8" font-size="5.2">-1</tspan></text><text x="167.6" y="394" font-family="Liberation Sans, Arial, sans-serif" font-size="8.4" fill="#e63b3b" stroke="#e63b3b" stroke-width="0.25" transform="rotate(-36.3 167.6 394)">1142.8 μmol h<tspan dy="-2.8" font-size="5.2">-1</tspan><tspan dy="2.8"> </tspan>g<tspan dy="-2.8" font-size="5.2">-1</tspan></text><text x="176.6" y="419.4" font-family="Liberation Sans, Arial, sans-serif" font-size="8.4" fill="#4a4a4a" stroke="#4a4a4a" stroke-width="0.25" transform="rotate(-12.9 176.6 419.4)">487.6 μmol h<tspan dy="-2.8" font-size="5.2">-1</tspan><tspan dy="2.8"> </tspan>g<tspan dy="-2.8" font-size="5.2">-1</tspan></text><text x="165.6" y="485" font-family="Liberation Sans, Arial, sans-serif" font-size="12.1" fill="#1a1a1a" font-weight="bold" text-anchor="middle" stroke="#1a1a1a" stroke-width="0.3">Time (min)</text><text x="0" y="0" font-family="Liberation Sans, Arial, sans-serif" font-size="11.8" font-weight="bold" fill="#1a1a1a" stroke="#1a1a1a" stroke-width="0.35" text-anchor="middle" transform="translate(43.6 381.4) rotate(-90)">H<tspan font-size="8.4" dy="2.6">2</tspan><tspan dy="-2.6">O</tspan><tspan font-size="8.4" dy="2.6">2</tspan><tspan dy="-2.6"> production (μM)</tspan></text><text x="25.6" y="308.6" font-family="Liberation Serif, Times New Roman, serif" font-size="11" fill="#111" font-weight="normal" text-anchor="start">(b)</text><text x="322.05" y="473.2" font-family="Liberation Sans, Arial, sans-serif" font-size="7.9" fill="#1a1a1a" font-weight="bold" text-anchor="middle" stroke="#1a1a1a" stroke-width="0.3">300</text><text x="357.13" y="473.2" font-family="Liberation Sans, Arial, sans-serif" font-size="7.9" fill="#1a1a1a" font-weight="bold" text-anchor="middle" stroke="#1a1a1a" stroke-width="0.3">400</text><text x="392.23" y="473.2" font-family="Liberation Sans, Arial, sans-serif" font-size="7.9" fill="#1a1a1a" font-weight="bold" text-anchor="middle" stroke="#1a1a1a" stroke-width="0.3">500</text><text x="427.31" y="473.2" font-family="Liberation Sans, Arial, sans-serif" font-size="7.9" fill="#1a1a1a" font-weight="bold" text-anchor="middle" stroke="#1a1a1a" stroke-width="0.3">600</text><text x="462.4" y="473.2" font-family="Liberation Sans, Arial, sans-serif" font-size="7.9" fill="#1a1a1a" font-weight="bold" text-anchor="middle" stroke="#1a1a1a" stroke-width="0.3">700</text><text x="497.5" y="473.2" font-family="Liberation Sans, Arial, sans-serif" font-size="7.9" fill="#1a1a1a" font-weight="bold" text-anchor="middle" stroke="#1a1a1a" stroke-width="0.3">800</text><path d="M322.05 461.6V464.8M357.13 461.6V464.8M392.23 461.6V464.8M427.31 461.6V464.8M462.4 461.6V464.8M497.5 461.6V464.8" stroke="#1a1a1a" stroke-width="1.1" fill="none"/><text x="502.6" y="465.05" font-family="Liberation Sans, Arial, sans-serif" font-size="7.4" fill="#e3313a" font-weight="bold" text-anchor="start" stroke="#e3313a" stroke-width="0.3">0</text><text x="502.6" y="425.25" font-family="Liberation Sans, Arial, sans-serif" font-size="7.4" fill="#e3313a" font-weight="bold" text-anchor="start" stroke="#e3313a" stroke-width="0.3">2</text><text x="502.6" y="385.45" font-family="Liberation Sans, Arial, sans-serif" font-size="7.4" fill="#e3313a" font-weight="bold" text-anchor="start" stroke="#e3313a" stroke-width="0.3">4</text><text x="502.6" y="345.65" font-family="Liberation Sans, Arial, sans-serif" font-size="7.4" fill="#e3313a" font-weight="bold" text-anchor="start" stroke="#e3313a" stroke-width="0.3">6</text><path d="M497.6 462.4H501M497.6 442.5H499.6M497.6 422.6H501M497.6 402.7H499.6M497.6 382.8H501M497.6 362.9H499.6M497.6 343H501M497.6 323.1H499.6" stroke="#e3313a" stroke-width="1.1" fill="none"/><path d="M497.6 305.9H304.7V461.6H497.6" fill="none" stroke="#1a1a1a" stroke-width="1.5"/><path d="M497.6 305.15V462.35" fill="none" stroke="#e3313a" stroke-width="1.5"/><path d="M304.7 347.6C305.37 346.82 306.93 344.12 308.7 342.9C310.47 341.68 313.12 341.03 315.3 340.3C317.48 339.57 319.8 338.97 321.8 338.5C323.8 338.03 325.48 337.97 327.3 337.5C329.12 337.03 330.7 336.37 332.7 335.7C334.7 335.03 337.48 333.83 339.3 333.5C341.12 333.17 342.15 333.7 343.6 333.7C345.05 333.7 346.18 333.35 348 333.5C349.82 333.65 352.32 334.23 354.5 334.6C356.68 334.97 358.92 335.05 361.1 335.7C363.28 336.35 365.42 337.37 367.6 338.5C369.78 339.63 372.02 341.3 374.2 342.5C376.38 343.7 378.52 344.8 380.7 345.7C382.88 346.6 385.12 347.17 387.3 347.9C389.48 348.63 392.1 349.58 393.8 350.1C395.5 350.62 396.38 350.63 397.5 351C398.62 351.37 399.48 351.55 400.5 352.3C401.52 353.05 402.65 353.8 403.6 355.5C404.55 357.2 405.3 359.17 406.2 362.5C407.1 365.83 408.12 371.22 409 375.5C409.88 379.78 410.53 383.97 411.5 388.2C412.47 392.43 413.53 396.68 414.8 400.9C416.07 405.12 417.53 409.28 419.1 413.5C420.67 417.72 422.3 422.6 424.2 426.2C426.1 429.8 428.18 432.57 430.5 435.1C432.82 437.63 435.13 439.5 438.1 441.4C441.07 443.3 444.5 444.8 448.3 446.5C452.1 448.2 456.25 450.25 460.9 451.6C465.55 452.95 470.18 453.67 476.2 454.6C482.22 455.53 493.53 456.77 497 457.2" fill="none" stroke="#2f6fd0" stroke-width="1.3"/><rect x="350.6" y="336.55" width="5.8" height="5.3" fill="#fff" stroke="#e3313a" stroke-width="1.0"/><rect x="353.36" y="336.05" width="3.54" height="6.3" fill="#e3313a"/><rect x="371.9" y="343.55" width="5.8" height="5.3" fill="#fff" stroke="#e3313a" stroke-width="1.0"/><rect x="374.66" y="343.05" width="3.54" height="6.3" fill="#e3313a"/><rect x="393.5" y="367.55" width="5.8" height="5.3" fill="#fff" stroke="#e3313a" stroke-width="1.0"/><rect x="396.26" y="367.05" width="3.54" height="6.3" fill="#e3313a"/><rect x="415.1" y="420.95" width="5.8" height="5.3" fill="#fff" stroke="#e3313a" stroke-width="1.0"/><rect x="417.86" y="420.45" width="3.54" height="6.3" fill="#e3313a"/><rect x="437.1" y="433.25" width="5.8" height="5.3" fill="#fff" stroke="#e3313a" stroke-width="1.0"/><rect x="439.86" y="432.75" width="3.54" height="6.3" fill="#e3313a"/><rect x="459" y="441.35" width="5.8" height="5.3" fill="#fff" stroke="#e3313a" stroke-width="1.0"/><rect x="461.76" y="440.85" width="3.54" height="6.3" fill="#e3313a"/><path d="M387.3 390H324.5" stroke="#3a78d2" stroke-width="1.1"/><polygon points="321.2,390 325.6,388.1 325.6,391.9" fill="#3a78d2"/><path d="M420.4 370.4H483.5" stroke="#e86a6a" stroke-width="1.0"/><polygon points="486.8,370.4 482.4,368.6 482.4,372.2" fill="#e86a6a"/><text x="401.2" y="484.8" font-family="Liberation Sans, Arial, sans-serif" font-size="12.1" fill="#1a1a1a" font-weight="bold" text-anchor="middle" stroke="#1a1a1a" stroke-width="0.3">Wavelength (nm)</text><text x="0" y="0" font-family="Liberation Sans, Arial, sans-serif" font-size="11.6" font-weight="bold" fill="#1a1a1a" stroke="#1a1a1a" stroke-width="0.35" text-anchor="middle" transform="translate(297.6 383.2) rotate(-90)" xml:space="preserve">Absorbance  (a.u.)</text><text x="0" y="0" font-family="Liberation Sans, Arial, sans-serif" font-size="11.8" font-weight="bold" fill="#e3313a" stroke="#e3313a" stroke-width="0.35" text-anchor="middle" transform="translate(521.6 383.8) rotate(-90)"><tspan font-style="italic">AQY</tspan> (%)</text><text x="284.6" y="308.4" font-family="Liberation Serif, Times New Roman, serif" font-size="11" fill="#111" font-weight="normal" text-anchor="start">(c)</text></svg></body></html>
